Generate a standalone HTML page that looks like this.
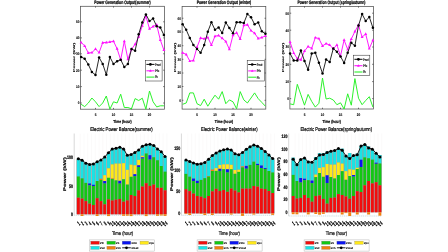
<!DOCTYPE html>
<html lang="en"><head><meta charset="utf-8"><title>Power Generation Output and Electric Power Balance</title>
<style>
html,body{margin:0;padding:0;background:#fff;}
body{width:448px;height:252px;overflow:hidden;}
svg{display:block;font-family:"Liberation Sans", sans-serif;}
text{stroke:#000;stroke-width:.22px;stroke-linejoin:round;text-rendering:geometricPrecision;}
text.yl{stroke-width:.1px;}
text.tk{stroke-width:.1px;}
text.yb{stroke-width:.2px;}
text.lg{stroke-width:.1px;}
</style></head><body>
<svg width="448" height="252" viewBox="0 0 448 252">
<rect width="448" height="252" fill="#fff"/>
<rect x="80.6" y="6.3" width="83.80" height="102.90" fill="none" stroke="#505050" stroke-width="0.75"/>
<path d="M95.50 109.2v-1.3M95.50 6.3v1.3" stroke="#222" stroke-width="0.6"/>
<text x="95.50" y="115.8" font-size="3.8" font-weight="bold" text-anchor="middle" fill="#111" class="tk" textLength="1.75" lengthAdjust="spacingAndGlyphs">5</text>
<path d="M113.50 109.2v-1.3M113.50 6.3v1.3" stroke="#222" stroke-width="0.6"/>
<text x="113.50" y="115.8" font-size="3.8" font-weight="bold" text-anchor="middle" fill="#111" class="tk" textLength="3.50" lengthAdjust="spacingAndGlyphs">10</text>
<path d="M131.50 109.2v-1.3M131.50 6.3v1.3" stroke="#222" stroke-width="0.6"/>
<text x="131.50" y="115.8" font-size="3.8" font-weight="bold" text-anchor="middle" fill="#111" class="tk" textLength="3.50" lengthAdjust="spacingAndGlyphs">15</text>
<path d="M149.50 109.2v-1.3M149.50 6.3v1.3" stroke="#222" stroke-width="0.6"/>
<text x="149.50" y="115.8" font-size="3.8" font-weight="bold" text-anchor="middle" fill="#111" class="tk" textLength="3.50" lengthAdjust="spacingAndGlyphs">20</text>
<path d="M80.6 21.8h1.3M164.4 21.8h-1.3" stroke="#222" stroke-width="0.6"/>
<text x="79.60" y="23.10" font-size="3.8" font-weight="bold" text-anchor="end" fill="#111" class="tk" textLength="3.50" lengthAdjust="spacingAndGlyphs">50</text>
<path d="M80.6 37.9h1.3M164.4 37.9h-1.3" stroke="#222" stroke-width="0.6"/>
<text x="79.60" y="39.20" font-size="3.8" font-weight="bold" text-anchor="end" fill="#111" class="tk" textLength="3.50" lengthAdjust="spacingAndGlyphs">40</text>
<path d="M80.6 53.8h1.3M164.4 53.8h-1.3" stroke="#222" stroke-width="0.6"/>
<text x="79.60" y="55.10" font-size="3.8" font-weight="bold" text-anchor="end" fill="#111" class="tk" textLength="3.50" lengthAdjust="spacingAndGlyphs">30</text>
<path d="M80.6 70.2h1.3M164.4 70.2h-1.3" stroke="#222" stroke-width="0.6"/>
<text x="79.60" y="71.50" font-size="3.8" font-weight="bold" text-anchor="end" fill="#111" class="tk" textLength="3.50" lengthAdjust="spacingAndGlyphs">20</text>
<path d="M80.6 86.6h1.3M164.4 86.6h-1.3" stroke="#222" stroke-width="0.6"/>
<text x="79.60" y="87.90" font-size="3.8" font-weight="bold" text-anchor="end" fill="#111" class="tk" textLength="3.50" lengthAdjust="spacingAndGlyphs">10</text>
<path d="M80.6 103.0h1.3M164.4 103.0h-1.3" stroke="#222" stroke-width="0.6"/>
<text x="79.60" y="104.30" font-size="3.8" font-weight="bold" text-anchor="end" fill="#111" class="tk" textLength="1.75" lengthAdjust="spacingAndGlyphs">0</text>
<text x="122.5" y="4.15" font-size="5.0" font-weight="bold" text-anchor="middle" textLength="56.5" lengthAdjust="spacingAndGlyphs" fill="#000">Power Generation Output(summer)</text>
<text x="122.50" y="123.2" font-size="4.3" font-weight="bold" text-anchor="middle" textLength="18.3" lengthAdjust="spacingAndGlyphs" fill="#111">Time (hour)</text>
<text transform="translate(75.40 57.5) rotate(-90)" font-size="2.7" font-weight="bold" text-anchor="middle" textLength="29.5" lengthAdjust="spacingAndGlyphs" fill="#222" class="yl">Power (kW)</text>
<polyline points="81.10,104.30 84.70,106.60 88.30,103.00 91.90,98.00 95.50,101.80 99.10,106.60 102.70,103.00 106.30,96.00 109.90,109.20 113.50,101.80 117.10,103.00 120.70,94.20 124.30,107.50 127.90,107.50 131.50,108.80 135.10,98.60 138.70,100.50 142.30,98.20 145.90,109.20 149.50,91.00 153.10,101.80 156.70,106.90 160.30,105.80 163.90,105.80" fill="none" stroke="#22f022" stroke-width="0.95" stroke-linejoin="round"/>
<polyline points="81.10,42.40 84.70,45.90 88.30,52.90 91.90,52.60 95.50,49.00 99.10,52.60 102.70,42.70 106.30,42.40 109.90,42.00 113.50,41.20 117.10,48.80 120.70,59.80 124.30,41.20 127.90,59.20 131.50,49.20 135.10,44.30 138.70,36.70 142.30,25.80 145.90,16.00 149.50,28.80 153.10,26.40 156.70,24.80 160.30,39.90 163.90,50.00" fill="none" stroke="#ff10ff" stroke-width="0.95" stroke-linejoin="round"/>
<path d="M79.60 43.40L82.60 43.40L81.10 40.70Z" fill="#ff10ff"/>
<path d="M83.20 46.90L86.20 46.90L84.70 44.20Z" fill="#ff10ff"/>
<path d="M86.80 53.90L89.80 53.90L88.30 51.20Z" fill="#ff10ff"/>
<path d="M90.40 53.60L93.40 53.60L91.90 50.90Z" fill="#ff10ff"/>
<path d="M94.00 50.00L97.00 50.00L95.50 47.30Z" fill="#ff10ff"/>
<path d="M97.60 53.60L100.60 53.60L99.10 50.90Z" fill="#ff10ff"/>
<path d="M101.20 43.70L104.20 43.70L102.70 41.00Z" fill="#ff10ff"/>
<path d="M104.80 43.40L107.80 43.40L106.30 40.70Z" fill="#ff10ff"/>
<path d="M108.40 43.00L111.40 43.00L109.90 40.30Z" fill="#ff10ff"/>
<path d="M112.00 42.20L115.00 42.20L113.50 39.50Z" fill="#ff10ff"/>
<path d="M115.60 49.80L118.60 49.80L117.10 47.10Z" fill="#ff10ff"/>
<path d="M119.20 60.80L122.20 60.80L120.70 58.10Z" fill="#ff10ff"/>
<path d="M122.80 42.20L125.80 42.20L124.30 39.50Z" fill="#ff10ff"/>
<path d="M126.40 60.20L129.40 60.20L127.90 57.50Z" fill="#ff10ff"/>
<path d="M130.00 50.20L133.00 50.20L131.50 47.50Z" fill="#ff10ff"/>
<path d="M133.60 45.30L136.60 45.30L135.10 42.60Z" fill="#ff10ff"/>
<path d="M137.20 37.70L140.20 37.70L138.70 35.00Z" fill="#ff10ff"/>
<path d="M140.80 26.80L143.80 26.80L142.30 24.10Z" fill="#ff10ff"/>
<path d="M144.40 17.00L147.40 17.00L145.90 14.30Z" fill="#ff10ff"/>
<path d="M148.00 29.80L151.00 29.80L149.50 27.10Z" fill="#ff10ff"/>
<path d="M151.60 27.40L154.60 27.40L153.10 24.70Z" fill="#ff10ff"/>
<path d="M155.20 25.80L158.20 25.80L156.70 23.10Z" fill="#ff10ff"/>
<path d="M158.80 40.90L161.80 40.90L160.30 38.20Z" fill="#ff10ff"/>
<path d="M162.40 51.00L165.40 51.00L163.90 48.30Z" fill="#ff10ff"/>
<polyline points="81.10,56.90 84.70,58.80 88.30,64.50 91.90,72.10 95.50,74.90 99.10,57.50 102.70,63.90 106.30,74.70 109.90,57.10 113.50,63.90 117.10,61.30 120.70,59.70 124.30,67.00 127.90,63.90 131.50,49.00 135.10,50.70 138.70,34.20 142.30,22.40 145.90,14.40 149.50,21.10 153.10,18.60 156.70,26.30 160.30,27.50 163.90,35.00" fill="none" stroke="#111" stroke-width="0.9" stroke-linejoin="round"/>
<circle cx="81.10" cy="56.90" r="1.25" fill="#000"/>
<circle cx="84.70" cy="58.80" r="1.25" fill="#000"/>
<circle cx="88.30" cy="64.50" r="1.25" fill="#000"/>
<circle cx="91.90" cy="72.10" r="1.25" fill="#000"/>
<circle cx="95.50" cy="74.90" r="1.25" fill="#000"/>
<circle cx="99.10" cy="57.50" r="1.25" fill="#000"/>
<circle cx="102.70" cy="63.90" r="1.25" fill="#000"/>
<circle cx="106.30" cy="74.70" r="1.25" fill="#000"/>
<circle cx="109.90" cy="57.10" r="1.25" fill="#000"/>
<circle cx="113.50" cy="63.90" r="1.25" fill="#000"/>
<circle cx="117.10" cy="61.30" r="1.25" fill="#000"/>
<circle cx="120.70" cy="59.70" r="1.25" fill="#000"/>
<circle cx="124.30" cy="67.00" r="1.25" fill="#000"/>
<circle cx="127.90" cy="63.90" r="1.25" fill="#000"/>
<circle cx="131.50" cy="49.00" r="1.25" fill="#000"/>
<circle cx="135.10" cy="50.70" r="1.25" fill="#000"/>
<circle cx="138.70" cy="34.20" r="1.25" fill="#000"/>
<circle cx="142.30" cy="22.40" r="1.25" fill="#000"/>
<circle cx="145.90" cy="14.40" r="1.25" fill="#000"/>
<circle cx="149.50" cy="21.10" r="1.25" fill="#000"/>
<circle cx="153.10" cy="18.60" r="1.25" fill="#000"/>
<circle cx="156.70" cy="26.30" r="1.25" fill="#000"/>
<circle cx="160.30" cy="27.50" r="1.25" fill="#000"/>
<circle cx="163.90" cy="35.00" r="1.25" fill="#000"/>
<rect x="145.4" y="60.3" width="16.70" height="20.70" fill="#fff" stroke="#222" stroke-width="0.5"/>
<path d="M146.40 64.40h8.1" stroke="#111" stroke-width="1.05"/>
<circle cx="150.40" cy="64.40" r="1.35" fill="#000"/>
<text x="155.00" y="65.70" font-size="3.7" font-weight="bold" fill="#111" class="lg" textLength="5.7" lengthAdjust="spacingAndGlyphs">Pnet</text>
<path d="M146.40 70.80h8.1" stroke="#ff10ff" stroke-width="1.05"/>
<path d="M149.05 71.75L151.75 71.75L150.40 69.30Z" fill="#ff10ff"/>
<text x="155.00" y="72.10" font-size="3.7" font-weight="bold" fill="#111" class="lg" textLength="4.2" lengthAdjust="spacingAndGlyphs">Pfc</text>
<path d="M146.40 77.10h8.1" stroke="#22f022" stroke-width="1.05"/>
<text x="155.00" y="78.40" font-size="3.7" font-weight="bold" fill="#111" class="lg" textLength="2.9" lengthAdjust="spacingAndGlyphs">Pb</text>
<rect x="182.1" y="6.4" width="83.70" height="102.70" fill="none" stroke="#505050" stroke-width="0.75"/>
<path d="M197.00 109.1v-1.3M197.00 6.4v1.3" stroke="#222" stroke-width="0.6"/>
<text x="197.00" y="115.8" font-size="3.8" font-weight="bold" text-anchor="middle" fill="#111" class="tk" textLength="1.75" lengthAdjust="spacingAndGlyphs">5</text>
<path d="M215.00 109.1v-1.3M215.00 6.4v1.3" stroke="#222" stroke-width="0.6"/>
<text x="215.00" y="115.8" font-size="3.8" font-weight="bold" text-anchor="middle" fill="#111" class="tk" textLength="3.50" lengthAdjust="spacingAndGlyphs">10</text>
<path d="M233.00 109.1v-1.3M233.00 6.4v1.3" stroke="#222" stroke-width="0.6"/>
<text x="233.00" y="115.8" font-size="3.8" font-weight="bold" text-anchor="middle" fill="#111" class="tk" textLength="3.50" lengthAdjust="spacingAndGlyphs">15</text>
<path d="M251.00 109.1v-1.3M251.00 6.4v1.3" stroke="#222" stroke-width="0.6"/>
<text x="251.00" y="115.8" font-size="3.8" font-weight="bold" text-anchor="middle" fill="#111" class="tk" textLength="3.50" lengthAdjust="spacingAndGlyphs">20</text>
<path d="M182.1 18.25h1.3M265.8 18.25h-1.3" stroke="#222" stroke-width="0.6"/>
<text x="181.10" y="19.55" font-size="3.8" font-weight="bold" text-anchor="end" fill="#111" class="tk" textLength="3.50" lengthAdjust="spacingAndGlyphs">60</text>
<path d="M182.1 32.0h1.3M265.8 32.0h-1.3" stroke="#222" stroke-width="0.6"/>
<text x="181.10" y="33.30" font-size="3.8" font-weight="bold" text-anchor="end" fill="#111" class="tk" textLength="3.50" lengthAdjust="spacingAndGlyphs">50</text>
<path d="M182.1 45.7h1.3M265.8 45.7h-1.3" stroke="#222" stroke-width="0.6"/>
<text x="181.10" y="47.00" font-size="3.8" font-weight="bold" text-anchor="end" fill="#111" class="tk" textLength="3.50" lengthAdjust="spacingAndGlyphs">40</text>
<path d="M182.1 59.3h1.3M265.8 59.3h-1.3" stroke="#222" stroke-width="0.6"/>
<text x="181.10" y="60.60" font-size="3.8" font-weight="bold" text-anchor="end" fill="#111" class="tk" textLength="3.50" lengthAdjust="spacingAndGlyphs">30</text>
<path d="M182.1 73.0h1.3M265.8 73.0h-1.3" stroke="#222" stroke-width="0.6"/>
<text x="181.10" y="74.30" font-size="3.8" font-weight="bold" text-anchor="end" fill="#111" class="tk" textLength="3.50" lengthAdjust="spacingAndGlyphs">20</text>
<path d="M182.1 86.5h1.3M265.8 86.5h-1.3" stroke="#222" stroke-width="0.6"/>
<text x="181.10" y="87.80" font-size="3.8" font-weight="bold" text-anchor="end" fill="#111" class="tk" textLength="3.50" lengthAdjust="spacingAndGlyphs">10</text>
<path d="M182.1 100.3h1.3M265.8 100.3h-1.3" stroke="#222" stroke-width="0.6"/>
<text x="181.10" y="101.60" font-size="3.8" font-weight="bold" text-anchor="end" fill="#111" class="tk" textLength="1.75" lengthAdjust="spacingAndGlyphs">0</text>
<text x="224" y="4.15" font-size="5.0" font-weight="bold" text-anchor="middle" textLength="54.5" lengthAdjust="spacingAndGlyphs" fill="#000">Power Generation Output (winter)</text>
<text x="223.95" y="123.2" font-size="4.3" font-weight="bold" text-anchor="middle" textLength="18.3" lengthAdjust="spacingAndGlyphs" fill="#111">Time (hour)</text>
<text transform="translate(175.70 57.5) rotate(-90)" font-size="2.7" font-weight="bold" text-anchor="middle" textLength="29.5" lengthAdjust="spacingAndGlyphs" fill="#222" class="yl">Power (kW)</text>
<polyline points="182.60,104.30 186.20,103.00 189.80,92.90 193.40,92.90 197.00,103.70 200.60,105.60 204.20,99.20 207.80,106.20 211.40,100.50 215.00,95.20 218.60,99.20 222.20,91.60 225.80,103.70 229.40,99.90 233.00,101.80 236.60,108.80 240.20,91.60 243.80,99.90 247.40,103.00 251.00,98.00 254.60,92.90 258.20,98.60 261.80,102.40 265.40,106.20" fill="none" stroke="#22f022" stroke-width="0.95" stroke-linejoin="round"/>
<polyline points="182.60,52.80 186.20,54.40 189.80,61.10 193.40,60.50 197.00,47.10 200.60,38.00 204.20,38.70 207.80,37.40 211.40,45.00 215.00,36.20 218.60,35.50 222.20,38.20 225.80,41.50 229.40,49.30 233.00,35.20 236.60,32.70 240.20,39.00 243.80,25.30 247.40,24.80 251.00,30.60 254.60,33.20 258.20,38.40 261.80,37.50 265.40,35.90" fill="none" stroke="#ff10ff" stroke-width="0.95" stroke-linejoin="round"/>
<path d="M181.10 53.80L184.10 53.80L182.60 51.10Z" fill="#ff10ff"/>
<path d="M184.70 55.40L187.70 55.40L186.20 52.70Z" fill="#ff10ff"/>
<path d="M188.30 62.10L191.30 62.10L189.80 59.40Z" fill="#ff10ff"/>
<path d="M191.90 61.50L194.90 61.50L193.40 58.80Z" fill="#ff10ff"/>
<path d="M195.50 48.10L198.50 48.10L197.00 45.40Z" fill="#ff10ff"/>
<path d="M199.10 39.00L202.10 39.00L200.60 36.30Z" fill="#ff10ff"/>
<path d="M202.70 39.70L205.70 39.70L204.20 37.00Z" fill="#ff10ff"/>
<path d="M206.30 38.40L209.30 38.40L207.80 35.70Z" fill="#ff10ff"/>
<path d="M209.90 46.00L212.90 46.00L211.40 43.30Z" fill="#ff10ff"/>
<path d="M213.50 37.20L216.50 37.20L215.00 34.50Z" fill="#ff10ff"/>
<path d="M217.10 36.50L220.10 36.50L218.60 33.80Z" fill="#ff10ff"/>
<path d="M220.70 39.20L223.70 39.20L222.20 36.50Z" fill="#ff10ff"/>
<path d="M224.30 42.50L227.30 42.50L225.80 39.80Z" fill="#ff10ff"/>
<path d="M227.90 50.30L230.90 50.30L229.40 47.60Z" fill="#ff10ff"/>
<path d="M231.50 36.20L234.50 36.20L233.00 33.50Z" fill="#ff10ff"/>
<path d="M235.10 33.70L238.10 33.70L236.60 31.00Z" fill="#ff10ff"/>
<path d="M238.70 40.00L241.70 40.00L240.20 37.30Z" fill="#ff10ff"/>
<path d="M242.30 26.30L245.30 26.30L243.80 23.60Z" fill="#ff10ff"/>
<path d="M245.90 25.80L248.90 25.80L247.40 23.10Z" fill="#ff10ff"/>
<path d="M249.50 31.60L252.50 31.60L251.00 28.90Z" fill="#ff10ff"/>
<path d="M253.10 34.20L256.10 34.20L254.60 31.50Z" fill="#ff10ff"/>
<path d="M256.70 39.40L259.70 39.40L258.20 36.70Z" fill="#ff10ff"/>
<path d="M260.30 38.50L263.30 38.50L261.80 35.80Z" fill="#ff10ff"/>
<path d="M263.90 36.90L266.90 36.90L265.40 34.20Z" fill="#ff10ff"/>
<polyline points="182.60,24.20 186.20,29.80 189.80,38.00 193.40,45.00 197.00,48.90 200.60,52.70 204.20,45.00 207.80,31.70 211.40,22.30 215.00,29.80 218.60,27.40 222.20,33.00 225.80,22.40 229.40,28.10 233.00,33.20 236.60,22.30 240.20,22.30 243.80,23.10 247.40,14.10 251.00,17.20 254.60,24.30 258.20,22.40 261.80,31.30 265.40,33.80" fill="none" stroke="#111" stroke-width="0.9" stroke-linejoin="round"/>
<circle cx="182.60" cy="24.20" r="1.25" fill="#000"/>
<circle cx="186.20" cy="29.80" r="1.25" fill="#000"/>
<circle cx="189.80" cy="38.00" r="1.25" fill="#000"/>
<circle cx="193.40" cy="45.00" r="1.25" fill="#000"/>
<circle cx="197.00" cy="48.90" r="1.25" fill="#000"/>
<circle cx="200.60" cy="52.70" r="1.25" fill="#000"/>
<circle cx="204.20" cy="45.00" r="1.25" fill="#000"/>
<circle cx="207.80" cy="31.70" r="1.25" fill="#000"/>
<circle cx="211.40" cy="22.30" r="1.25" fill="#000"/>
<circle cx="215.00" cy="29.80" r="1.25" fill="#000"/>
<circle cx="218.60" cy="27.40" r="1.25" fill="#000"/>
<circle cx="222.20" cy="33.00" r="1.25" fill="#000"/>
<circle cx="225.80" cy="22.40" r="1.25" fill="#000"/>
<circle cx="229.40" cy="28.10" r="1.25" fill="#000"/>
<circle cx="233.00" cy="33.20" r="1.25" fill="#000"/>
<circle cx="236.60" cy="22.30" r="1.25" fill="#000"/>
<circle cx="240.20" cy="22.30" r="1.25" fill="#000"/>
<circle cx="243.80" cy="23.10" r="1.25" fill="#000"/>
<circle cx="247.40" cy="14.10" r="1.25" fill="#000"/>
<circle cx="251.00" cy="17.20" r="1.25" fill="#000"/>
<circle cx="254.60" cy="24.30" r="1.25" fill="#000"/>
<circle cx="258.20" cy="22.40" r="1.25" fill="#000"/>
<circle cx="261.80" cy="31.30" r="1.25" fill="#000"/>
<circle cx="265.40" cy="33.80" r="1.25" fill="#000"/>
<rect x="247.2" y="60.4" width="17.20" height="20.60" fill="#fff" stroke="#222" stroke-width="0.5"/>
<path d="M248.20 64.50h8.1" stroke="#111" stroke-width="1.05"/>
<circle cx="252.20" cy="64.50" r="1.35" fill="#000"/>
<text x="256.80" y="65.80" font-size="3.7" font-weight="bold" fill="#111" class="lg" textLength="5.7" lengthAdjust="spacingAndGlyphs">Pnet</text>
<path d="M248.20 70.90h8.1" stroke="#ff10ff" stroke-width="1.05"/>
<path d="M250.85 71.85L253.55 71.85L252.20 69.40Z" fill="#ff10ff"/>
<text x="256.80" y="72.20" font-size="3.7" font-weight="bold" fill="#111" class="lg" textLength="4.2" lengthAdjust="spacingAndGlyphs">Pfc</text>
<path d="M248.20 77.20h8.1" stroke="#22f022" stroke-width="1.05"/>
<text x="256.80" y="78.50" font-size="3.7" font-weight="bold" fill="#111" class="lg" textLength="2.9" lengthAdjust="spacingAndGlyphs">Pb</text>
<rect x="289.9" y="6.4" width="83.50" height="102.60" fill="none" stroke="#505050" stroke-width="0.75"/>
<path d="M304.50 109.0v-1.3M304.50 6.4v1.3" stroke="#222" stroke-width="0.6"/>
<text x="304.50" y="115.8" font-size="3.8" font-weight="bold" text-anchor="middle" fill="#111" class="tk" textLength="1.75" lengthAdjust="spacingAndGlyphs">5</text>
<path d="M322.50 109.0v-1.3M322.50 6.4v1.3" stroke="#222" stroke-width="0.6"/>
<text x="322.50" y="115.8" font-size="3.8" font-weight="bold" text-anchor="middle" fill="#111" class="tk" textLength="3.50" lengthAdjust="spacingAndGlyphs">10</text>
<path d="M340.50 109.0v-1.3M340.50 6.4v1.3" stroke="#222" stroke-width="0.6"/>
<text x="340.50" y="115.8" font-size="3.8" font-weight="bold" text-anchor="middle" fill="#111" class="tk" textLength="3.50" lengthAdjust="spacingAndGlyphs">15</text>
<path d="M358.50 109.0v-1.3M358.50 6.4v1.3" stroke="#222" stroke-width="0.6"/>
<text x="358.50" y="115.8" font-size="3.8" font-weight="bold" text-anchor="middle" fill="#111" class="tk" textLength="3.50" lengthAdjust="spacingAndGlyphs">20</text>
<path d="M289.9 13.2h1.3M373.4 13.2h-1.3" stroke="#222" stroke-width="0.6"/>
<text x="288.90" y="14.50" font-size="3.8" font-weight="bold" text-anchor="end" fill="#111" class="tk" textLength="3.50" lengthAdjust="spacingAndGlyphs">50</text>
<path d="M289.9 30.2h1.3M373.4 30.2h-1.3" stroke="#222" stroke-width="0.6"/>
<text x="288.90" y="31.50" font-size="3.8" font-weight="bold" text-anchor="end" fill="#111" class="tk" textLength="3.50" lengthAdjust="spacingAndGlyphs">40</text>
<path d="M289.9 47.0h1.3M373.4 47.0h-1.3" stroke="#222" stroke-width="0.6"/>
<text x="288.90" y="48.30" font-size="3.8" font-weight="bold" text-anchor="end" fill="#111" class="tk" textLength="3.50" lengthAdjust="spacingAndGlyphs">30</text>
<path d="M289.9 64.3h1.3M373.4 64.3h-1.3" stroke="#222" stroke-width="0.6"/>
<text x="288.90" y="65.60" font-size="3.8" font-weight="bold" text-anchor="end" fill="#111" class="tk" textLength="3.50" lengthAdjust="spacingAndGlyphs">20</text>
<path d="M289.9 81.6h1.3M373.4 81.6h-1.3" stroke="#222" stroke-width="0.6"/>
<text x="288.90" y="82.90" font-size="3.8" font-weight="bold" text-anchor="end" fill="#111" class="tk" textLength="3.50" lengthAdjust="spacingAndGlyphs">10</text>
<path d="M289.9 98.6h1.3M373.4 98.6h-1.3" stroke="#222" stroke-width="0.6"/>
<text x="288.90" y="99.90" font-size="3.8" font-weight="bold" text-anchor="end" fill="#111" class="tk" textLength="1.75" lengthAdjust="spacingAndGlyphs">0</text>
<text x="331.5" y="4.15" font-size="5.0" font-weight="bold" text-anchor="middle" textLength="68" lengthAdjust="spacingAndGlyphs" fill="#000">Power Generation Output (spring/autumn)</text>
<text x="331.65" y="123.2" font-size="4.3" font-weight="bold" text-anchor="middle" textLength="18.3" lengthAdjust="spacingAndGlyphs" fill="#111">Time (hour)</text>
<text transform="translate(283.90 57.5) rotate(-90)" font-size="2.7" font-weight="bold" text-anchor="middle" textLength="29.5" lengthAdjust="spacingAndGlyphs" fill="#222" class="yl">Power (kW)</text>
<polyline points="290.10,103.90 293.70,104.70 297.30,84.30 300.90,94.80 304.50,105.20 308.10,94.40 311.70,101.40 315.30,107.10 318.90,103.30 322.50,78.00 326.10,99.00 329.70,98.20 333.30,100.00 336.90,104.70 340.50,102.80 344.10,109.00 347.70,93.80 351.30,105.20 354.90,78.60 358.50,98.20 362.10,104.70 365.70,100.50 369.30,96.70 372.90,107.10" fill="none" stroke="#22f022" stroke-width="0.95" stroke-linejoin="round"/>
<polyline points="290.10,42.10 293.70,52.90 297.30,58.60 300.90,59.80 304.50,51.00 308.10,46.50 311.70,48.40 315.30,37.60 318.90,38.60 322.50,45.90 326.10,43.60 329.70,45.00 333.30,48.80 336.90,44.90 340.50,55.90 344.10,40.00 347.70,49.40 351.30,39.00 354.90,31.50 358.50,25.00 362.10,37.10 365.70,34.00 369.30,48.60 372.90,40.30" fill="none" stroke="#ff10ff" stroke-width="0.95" stroke-linejoin="round"/>
<path d="M288.60 43.10L291.60 43.10L290.10 40.40Z" fill="#ff10ff"/>
<path d="M292.20 53.90L295.20 53.90L293.70 51.20Z" fill="#ff10ff"/>
<path d="M295.80 59.60L298.80 59.60L297.30 56.90Z" fill="#ff10ff"/>
<path d="M299.40 60.80L302.40 60.80L300.90 58.10Z" fill="#ff10ff"/>
<path d="M303.00 52.00L306.00 52.00L304.50 49.30Z" fill="#ff10ff"/>
<path d="M306.60 47.50L309.60 47.50L308.10 44.80Z" fill="#ff10ff"/>
<path d="M310.20 49.40L313.20 49.40L311.70 46.70Z" fill="#ff10ff"/>
<path d="M313.80 38.60L316.80 38.60L315.30 35.90Z" fill="#ff10ff"/>
<path d="M317.40 39.60L320.40 39.60L318.90 36.90Z" fill="#ff10ff"/>
<path d="M321.00 46.90L324.00 46.90L322.50 44.20Z" fill="#ff10ff"/>
<path d="M324.60 44.60L327.60 44.60L326.10 41.90Z" fill="#ff10ff"/>
<path d="M328.20 46.00L331.20 46.00L329.70 43.30Z" fill="#ff10ff"/>
<path d="M331.80 49.80L334.80 49.80L333.30 47.10Z" fill="#ff10ff"/>
<path d="M335.40 45.90L338.40 45.90L336.90 43.20Z" fill="#ff10ff"/>
<path d="M339.00 56.90L342.00 56.90L340.50 54.20Z" fill="#ff10ff"/>
<path d="M342.60 41.00L345.60 41.00L344.10 38.30Z" fill="#ff10ff"/>
<path d="M346.20 50.40L349.20 50.40L347.70 47.70Z" fill="#ff10ff"/>
<path d="M349.80 40.00L352.80 40.00L351.30 37.30Z" fill="#ff10ff"/>
<path d="M353.40 32.50L356.40 32.50L354.90 29.80Z" fill="#ff10ff"/>
<path d="M357.00 26.00L360.00 26.00L358.50 23.30Z" fill="#ff10ff"/>
<path d="M360.60 38.10L363.60 38.10L362.10 35.40Z" fill="#ff10ff"/>
<path d="M364.20 35.00L367.20 35.00L365.70 32.30Z" fill="#ff10ff"/>
<path d="M367.80 49.60L370.80 49.60L369.30 46.90Z" fill="#ff10ff"/>
<path d="M371.40 41.30L374.40 41.30L372.90 38.60Z" fill="#ff10ff"/>
<polyline points="290.10,53.60 293.70,60.40 297.30,60.60 300.90,50.40 304.50,61.00 308.10,69.70 311.70,53.50 315.30,52.80 318.90,62.70 322.50,73.50 326.10,59.50 329.70,62.00 333.30,48.50 336.90,51.80 340.50,56.50 344.10,62.90 347.70,52.70 351.30,42.80 354.90,45.80 358.50,25.60 362.10,14.10 365.70,21.00 369.30,17.00 372.90,27.80" fill="none" stroke="#111" stroke-width="0.9" stroke-linejoin="round"/>
<circle cx="290.10" cy="53.60" r="1.25" fill="#000"/>
<circle cx="293.70" cy="60.40" r="1.25" fill="#000"/>
<circle cx="297.30" cy="60.60" r="1.25" fill="#000"/>
<circle cx="300.90" cy="50.40" r="1.25" fill="#000"/>
<circle cx="304.50" cy="61.00" r="1.25" fill="#000"/>
<circle cx="308.10" cy="69.70" r="1.25" fill="#000"/>
<circle cx="311.70" cy="53.50" r="1.25" fill="#000"/>
<circle cx="315.30" cy="52.80" r="1.25" fill="#000"/>
<circle cx="318.90" cy="62.70" r="1.25" fill="#000"/>
<circle cx="322.50" cy="73.50" r="1.25" fill="#000"/>
<circle cx="326.10" cy="59.50" r="1.25" fill="#000"/>
<circle cx="329.70" cy="62.00" r="1.25" fill="#000"/>
<circle cx="333.30" cy="48.50" r="1.25" fill="#000"/>
<circle cx="336.90" cy="51.80" r="1.25" fill="#000"/>
<circle cx="340.50" cy="56.50" r="1.25" fill="#000"/>
<circle cx="344.10" cy="62.90" r="1.25" fill="#000"/>
<circle cx="347.70" cy="52.70" r="1.25" fill="#000"/>
<circle cx="351.30" cy="42.80" r="1.25" fill="#000"/>
<circle cx="354.90" cy="45.80" r="1.25" fill="#000"/>
<circle cx="358.50" cy="25.60" r="1.25" fill="#000"/>
<circle cx="362.10" cy="14.10" r="1.25" fill="#000"/>
<circle cx="365.70" cy="21.00" r="1.25" fill="#000"/>
<circle cx="369.30" cy="17.00" r="1.25" fill="#000"/>
<circle cx="372.90" cy="27.80" r="1.25" fill="#000"/>
<rect x="353.4" y="55.2" width="16.40" height="20.50" fill="#fff" stroke="#222" stroke-width="0.5"/>
<path d="M354.40 59.30h8.1" stroke="#111" stroke-width="1.05"/>
<circle cx="358.40" cy="59.30" r="1.35" fill="#000"/>
<text x="363.00" y="60.60" font-size="3.7" font-weight="bold" fill="#111" class="lg" textLength="5.7" lengthAdjust="spacingAndGlyphs">Pnet</text>
<path d="M354.40 65.70h8.1" stroke="#ff10ff" stroke-width="1.05"/>
<path d="M357.05 66.65L359.75 66.65L358.40 64.20Z" fill="#ff10ff"/>
<text x="363.00" y="67.00" font-size="3.7" font-weight="bold" fill="#111" class="lg" textLength="4.2" lengthAdjust="spacingAndGlyphs">Pfc</text>
<path d="M354.40 72.00h8.1" stroke="#22f022" stroke-width="1.05"/>
<text x="363.00" y="73.30" font-size="3.7" font-weight="bold" fill="#111" class="lg" textLength="2.9" lengthAdjust="spacingAndGlyphs">Pb</text>
<path d="M80.20 133.5V215.3" stroke="#f8f6f6" stroke-width="0.6"/>
<path d="M83.98 133.5V215.3" stroke="#f8f6f6" stroke-width="0.6"/>
<path d="M87.75 133.5V215.3" stroke="#f8f6f6" stroke-width="0.6"/>
<path d="M91.52 133.5V215.3" stroke="#f8f6f6" stroke-width="0.6"/>
<path d="M95.29 133.5V215.3" stroke="#f8f6f6" stroke-width="0.6"/>
<path d="M99.06 133.5V215.3" stroke="#f8f6f6" stroke-width="0.6"/>
<path d="M102.83 133.5V215.3" stroke="#f8f6f6" stroke-width="0.6"/>
<path d="M106.59 133.5V215.3" stroke="#f8f6f6" stroke-width="0.6"/>
<path d="M110.36 133.5V215.3" stroke="#f8f6f6" stroke-width="0.6"/>
<path d="M114.14 133.5V215.3" stroke="#f8f6f6" stroke-width="0.6"/>
<path d="M117.91 133.5V215.3" stroke="#f8f6f6" stroke-width="0.6"/>
<path d="M121.67 133.5V215.3" stroke="#f8f6f6" stroke-width="0.6"/>
<path d="M125.45 133.5V215.3" stroke="#f8f6f6" stroke-width="0.6"/>
<path d="M129.22 133.5V215.3" stroke="#f8f6f6" stroke-width="0.6"/>
<path d="M132.98 133.5V215.3" stroke="#f8f6f6" stroke-width="0.6"/>
<path d="M136.75 133.5V215.3" stroke="#f8f6f6" stroke-width="0.6"/>
<path d="M140.52 133.5V215.3" stroke="#f8f6f6" stroke-width="0.6"/>
<path d="M144.29 133.5V215.3" stroke="#f8f6f6" stroke-width="0.6"/>
<path d="M148.06 133.5V215.3" stroke="#f8f6f6" stroke-width="0.6"/>
<path d="M151.83 133.5V215.3" stroke="#f8f6f6" stroke-width="0.6"/>
<path d="M155.60 133.5V215.3" stroke="#f8f6f6" stroke-width="0.6"/>
<path d="M159.38 133.5V215.3" stroke="#f8f6f6" stroke-width="0.6"/>
<path d="M163.14 133.5V215.3" stroke="#f8f6f6" stroke-width="0.6"/>
<path d="M166.91 133.5V215.3" stroke="#f8f6f6" stroke-width="0.6"/>
<path d="M74.2 133.5V215.3" stroke="#c9c9c9" stroke-width="0.7"/>
<path d="M74.2 215.3H166.93" stroke="#bcd0d6" stroke-width="0.7" stroke-dasharray="1.2 0.7"/>
<rect x="76.43" y="158.70" width="3.77" height="55.60" fill="#8f9a9a"/>
<rect x="76.87" y="158.70" width="2.9" height="17.80" fill="#19e3e6"/>
<rect x="76.87" y="176.50" width="2.9" height="21.20" fill="#12c812"/>
<rect x="76.87" y="197.70" width="2.9" height="16.60" fill="#f20d0d"/>
<rect x="80.20" y="160.30" width="3.77" height="54.00" fill="#8f9a9a"/>
<rect x="80.64" y="160.30" width="2.9" height="18.10" fill="#19e3e6"/>
<rect x="80.64" y="178.40" width="2.9" height="20.20" fill="#12c812"/>
<rect x="80.64" y="198.60" width="2.9" height="15.70" fill="#f20d0d"/>
<rect x="80.64" y="214.30" width="2.9" height="1.70" fill="#f08010"/>
<rect x="83.97" y="163.20" width="3.77" height="51.10" fill="#8f9a9a"/>
<rect x="84.41" y="163.20" width="2.9" height="19.70" fill="#19e3e6"/>
<rect x="84.41" y="182.90" width="2.9" height="18.20" fill="#12c812"/>
<rect x="84.41" y="201.10" width="2.9" height="13.20" fill="#f20d0d"/>
<rect x="87.74" y="164.40" width="3.77" height="49.90" fill="#8f9a9a"/>
<rect x="88.18" y="164.40" width="2.9" height="19.10" fill="#19e3e6"/>
<rect x="88.18" y="183.50" width="2.9" height="1.90" fill="#0a14f0"/>
<rect x="88.18" y="185.40" width="2.9" height="18.30" fill="#12c812"/>
<rect x="88.18" y="203.70" width="2.9" height="10.60" fill="#f20d0d"/>
<rect x="91.52" y="163.90" width="3.77" height="50.40" fill="#8f9a9a"/>
<rect x="91.95" y="163.90" width="2.9" height="20.90" fill="#19e3e6"/>
<rect x="91.95" y="184.80" width="2.9" height="1.20" fill="#0a14f0"/>
<rect x="91.95" y="186.00" width="2.9" height="19.00" fill="#12c812"/>
<rect x="91.95" y="205.00" width="2.9" height="9.30" fill="#f20d0d"/>
<rect x="95.28" y="161.80" width="3.77" height="52.50" fill="#8f9a9a"/>
<rect x="95.72" y="161.80" width="2.9" height="19.20" fill="#19e3e6"/>
<rect x="95.72" y="181.00" width="2.9" height="17.20" fill="#12c812"/>
<rect x="95.72" y="198.20" width="2.9" height="16.10" fill="#f20d0d"/>
<rect x="95.72" y="214.30" width="2.9" height="1.70" fill="#f08010"/>
<rect x="99.05" y="160.00" width="3.77" height="54.30" fill="#8f9a9a"/>
<rect x="99.49" y="160.00" width="2.9" height="18.80" fill="#19e3e6"/>
<rect x="99.49" y="178.80" width="2.9" height="1.20" fill="#f08010"/>
<rect x="99.49" y="180.00" width="2.9" height="21.10" fill="#12c812"/>
<rect x="99.49" y="201.10" width="2.9" height="13.20" fill="#f20d0d"/>
<rect x="102.82" y="157.10" width="3.77" height="57.20" fill="#8f9a9a"/>
<rect x="103.26" y="157.10" width="2.9" height="18.10" fill="#19e3e6"/>
<rect x="103.26" y="175.20" width="2.9" height="5.80" fill="#ffe81a"/>
<rect x="103.26" y="181.00" width="2.9" height="2.50" fill="#0a14f0"/>
<rect x="103.26" y="183.50" width="2.9" height="20.80" fill="#12c812"/>
<rect x="103.26" y="204.30" width="2.9" height="10.00" fill="#f20d0d"/>
<rect x="106.59" y="152.70" width="3.77" height="61.60" fill="#8f9a9a"/>
<rect x="107.03" y="152.70" width="2.9" height="15.60" fill="#19e3e6"/>
<rect x="107.03" y="168.30" width="2.9" height="9.50" fill="#ffe81a"/>
<rect x="107.03" y="177.80" width="2.9" height="21.60" fill="#12c812"/>
<rect x="107.03" y="199.40" width="2.9" height="14.90" fill="#f20d0d"/>
<rect x="107.03" y="214.30" width="2.9" height="1.80" fill="#f08010"/>
<rect x="110.36" y="149.10" width="3.77" height="65.20" fill="#8f9a9a"/>
<rect x="110.80" y="149.10" width="2.9" height="15.30" fill="#19e3e6"/>
<rect x="110.80" y="164.40" width="2.9" height="14.00" fill="#ffe81a"/>
<rect x="110.80" y="178.40" width="2.9" height="0.60" fill="#f08010"/>
<rect x="110.80" y="179.00" width="2.9" height="21.50" fill="#12c812"/>
<rect x="110.80" y="200.50" width="2.9" height="13.80" fill="#f20d0d"/>
<rect x="114.13" y="148.20" width="3.77" height="66.10" fill="#8f9a9a"/>
<rect x="114.57" y="148.20" width="2.9" height="15.40" fill="#19e3e6"/>
<rect x="114.57" y="163.60" width="2.9" height="16.80" fill="#ffe81a"/>
<rect x="114.57" y="180.40" width="2.9" height="19.20" fill="#12c812"/>
<rect x="114.57" y="199.60" width="2.9" height="14.70" fill="#f20d0d"/>
<rect x="117.90" y="147.20" width="3.77" height="67.10" fill="#8f9a9a"/>
<rect x="118.34" y="147.20" width="2.9" height="16.40" fill="#19e3e6"/>
<rect x="118.34" y="163.60" width="2.9" height="17.20" fill="#ffe81a"/>
<rect x="118.34" y="180.80" width="2.9" height="2.80" fill="#0a14f0"/>
<rect x="118.34" y="183.60" width="2.9" height="15.40" fill="#12c812"/>
<rect x="118.34" y="199.00" width="2.9" height="15.30" fill="#f20d0d"/>
<rect x="121.67" y="149.00" width="3.77" height="65.30" fill="#8f9a9a"/>
<rect x="122.11" y="149.00" width="2.9" height="14.20" fill="#19e3e6"/>
<rect x="122.11" y="163.20" width="2.9" height="16.10" fill="#ffe81a"/>
<rect x="122.11" y="179.30" width="2.9" height="22.40" fill="#12c812"/>
<rect x="122.11" y="201.70" width="2.9" height="12.60" fill="#f20d0d"/>
<rect x="122.11" y="214.30" width="2.9" height="1.50" fill="#f08010"/>
<rect x="125.44" y="155.30" width="3.77" height="59.00" fill="#8f9a9a"/>
<rect x="125.88" y="155.30" width="2.9" height="14.50" fill="#19e3e6"/>
<rect x="125.88" y="169.80" width="2.9" height="14.80" fill="#ffe81a"/>
<rect x="125.88" y="184.60" width="2.9" height="15.80" fill="#12c812"/>
<rect x="125.88" y="200.40" width="2.9" height="13.90" fill="#f20d0d"/>
<rect x="125.88" y="214.30" width="2.9" height="1.40" fill="#f08010"/>
<rect x="129.22" y="154.60" width="3.77" height="59.70" fill="#8f9a9a"/>
<rect x="129.65" y="154.60" width="2.9" height="10.10" fill="#19e3e6"/>
<rect x="129.65" y="164.70" width="2.9" height="12.10" fill="#ffe81a"/>
<rect x="129.65" y="176.80" width="2.9" height="18.20" fill="#12c812"/>
<rect x="129.65" y="195.00" width="2.9" height="19.30" fill="#f20d0d"/>
<rect x="129.65" y="214.30" width="2.9" height="1.80" fill="#f08010"/>
<rect x="132.99" y="152.50" width="3.77" height="61.80" fill="#8f9a9a"/>
<rect x="133.42" y="152.50" width="2.9" height="12.80" fill="#19e3e6"/>
<rect x="133.42" y="165.30" width="2.9" height="8.90" fill="#ffe81a"/>
<rect x="133.42" y="174.20" width="2.9" height="1.90" fill="#0a14f0"/>
<rect x="133.42" y="176.10" width="2.9" height="19.90" fill="#12c812"/>
<rect x="133.42" y="196.00" width="2.9" height="18.30" fill="#f20d0d"/>
<rect x="136.75" y="150.00" width="3.77" height="64.30" fill="#8f9a9a"/>
<rect x="137.19" y="150.00" width="2.9" height="9.90" fill="#19e3e6"/>
<rect x="137.19" y="159.90" width="2.9" height="5.40" fill="#ffe81a"/>
<rect x="137.19" y="165.30" width="2.9" height="1.70" fill="#0a14f0"/>
<rect x="137.19" y="167.00" width="2.9" height="23.30" fill="#12c812"/>
<rect x="137.19" y="190.30" width="2.9" height="24.00" fill="#f20d0d"/>
<rect x="140.53" y="146.20" width="3.77" height="68.10" fill="#8f9a9a"/>
<rect x="140.96" y="146.20" width="2.9" height="9.60" fill="#19e3e6"/>
<rect x="140.96" y="155.80" width="2.9" height="1.50" fill="#ffe81a"/>
<rect x="140.96" y="157.30" width="2.9" height="1.30" fill="#0a14f0"/>
<rect x="140.96" y="158.60" width="2.9" height="27.90" fill="#12c812"/>
<rect x="140.96" y="186.50" width="2.9" height="27.80" fill="#f20d0d"/>
<rect x="144.30" y="144.80" width="3.77" height="69.50" fill="#8f9a9a"/>
<rect x="144.73" y="144.80" width="2.9" height="8.70" fill="#19e3e6"/>
<rect x="144.73" y="153.50" width="2.9" height="29.70" fill="#12c812"/>
<rect x="144.73" y="183.20" width="2.9" height="31.10" fill="#f20d0d"/>
<rect x="144.73" y="214.30" width="2.9" height="1.80" fill="#f08010"/>
<rect x="148.06" y="144.20" width="3.77" height="70.10" fill="#8f9a9a"/>
<rect x="148.50" y="144.20" width="2.9" height="11.00" fill="#19e3e6"/>
<rect x="148.50" y="155.20" width="2.9" height="4.40" fill="#0a14f0"/>
<rect x="148.50" y="159.60" width="2.9" height="26.30" fill="#12c812"/>
<rect x="148.50" y="185.90" width="2.9" height="28.40" fill="#f20d0d"/>
<rect x="151.84" y="145.50" width="3.77" height="68.80" fill="#8f9a9a"/>
<rect x="152.27" y="145.50" width="2.9" height="11.80" fill="#19e3e6"/>
<rect x="152.27" y="157.30" width="2.9" height="27.30" fill="#12c812"/>
<rect x="152.27" y="184.60" width="2.9" height="29.70" fill="#f20d0d"/>
<rect x="155.61" y="149.00" width="3.77" height="65.30" fill="#8f9a9a"/>
<rect x="156.04" y="149.00" width="2.9" height="11.30" fill="#19e3e6"/>
<rect x="156.04" y="160.30" width="2.9" height="27.50" fill="#12c812"/>
<rect x="156.04" y="187.80" width="2.9" height="26.50" fill="#f20d0d"/>
<rect x="156.04" y="214.30" width="2.9" height="1.50" fill="#f08010"/>
<rect x="159.38" y="151.80" width="3.77" height="62.50" fill="#8f9a9a"/>
<rect x="159.81" y="151.80" width="2.9" height="14.20" fill="#19e3e6"/>
<rect x="159.81" y="166.00" width="2.9" height="21.80" fill="#12c812"/>
<rect x="159.81" y="187.80" width="2.9" height="26.50" fill="#f20d0d"/>
<rect x="159.81" y="214.30" width="2.9" height="1.20" fill="#f08010"/>
<rect x="163.15" y="156.40" width="3.77" height="57.90" fill="#8f9a9a"/>
<rect x="163.58" y="156.40" width="2.9" height="15.30" fill="#19e3e6"/>
<rect x="163.58" y="171.70" width="2.9" height="18.60" fill="#12c812"/>
<rect x="163.58" y="190.30" width="2.9" height="24.00" fill="#f20d0d"/>
<rect x="163.58" y="214.30" width="2.9" height="1.60" fill="#f08010"/>
<polyline points="78.32,158.70 82.09,160.30 85.86,163.20 89.63,164.40 93.40,163.90 97.17,161.80 100.94,160.00 104.71,157.10 108.48,152.70 112.25,149.10 116.02,148.20 119.79,147.20 123.56,149.00 127.33,155.30 131.10,154.60 134.87,152.50 138.64,150.00 142.41,146.20 146.18,144.80 149.95,144.20 153.72,145.50 157.49,149.00 161.26,151.80 165.03,156.40" fill="none" stroke="#111" stroke-width="0.95" stroke-linejoin="round"/>
<circle cx="78.32" cy="158.70" r="1.5" fill="#000"/>
<circle cx="82.09" cy="160.30" r="1.5" fill="#000"/>
<circle cx="85.86" cy="163.20" r="1.5" fill="#000"/>
<circle cx="89.63" cy="164.40" r="1.5" fill="#000"/>
<circle cx="93.40" cy="163.90" r="1.5" fill="#000"/>
<circle cx="97.17" cy="161.80" r="1.5" fill="#000"/>
<circle cx="100.94" cy="160.00" r="1.5" fill="#000"/>
<circle cx="104.71" cy="157.10" r="1.5" fill="#000"/>
<circle cx="108.48" cy="152.70" r="1.5" fill="#000"/>
<circle cx="112.25" cy="149.10" r="1.5" fill="#000"/>
<circle cx="116.02" cy="148.20" r="1.5" fill="#000"/>
<circle cx="119.79" cy="147.20" r="1.5" fill="#000"/>
<circle cx="123.56" cy="149.00" r="1.5" fill="#000"/>
<circle cx="127.33" cy="155.30" r="1.5" fill="#000"/>
<circle cx="131.10" cy="154.60" r="1.5" fill="#000"/>
<circle cx="134.87" cy="152.50" r="1.5" fill="#000"/>
<circle cx="138.64" cy="150.00" r="1.5" fill="#000"/>
<circle cx="142.41" cy="146.20" r="1.5" fill="#000"/>
<circle cx="146.18" cy="144.80" r="1.5" fill="#000"/>
<circle cx="149.95" cy="144.20" r="1.5" fill="#000"/>
<circle cx="153.72" cy="145.50" r="1.5" fill="#000"/>
<circle cx="157.49" cy="149.00" r="1.5" fill="#000"/>
<circle cx="161.26" cy="151.80" r="1.5" fill="#000"/>
<circle cx="165.03" cy="156.40" r="1.5" fill="#000"/>
<text x="73.00" y="159.20" font-size="5.0" font-weight="bold" text-anchor="end" fill="#000" textLength="6.0" lengthAdjust="spacingAndGlyphs">100</text>
<text x="73.00" y="187.70" font-size="5.0" font-weight="bold" text-anchor="end" fill="#000" textLength="4.0" lengthAdjust="spacingAndGlyphs">50</text>
<text x="73.00" y="216.00" font-size="5.0" font-weight="bold" text-anchor="end" fill="#000" textLength="2.0" lengthAdjust="spacingAndGlyphs">0</text>
<text transform="translate(78.82 223.2) rotate(-36) scale(0.66 1.45)" font-size="4.1" letter-spacing="0.9" font-weight="bold" text-anchor="middle" dominant-baseline="central" fill="#000">1</text>
<text transform="translate(82.59 223.2) rotate(-36) scale(0.66 1.45)" font-size="4.1" letter-spacing="0.9" font-weight="bold" text-anchor="middle" dominant-baseline="central" fill="#000">2</text>
<text transform="translate(86.36 223.2) rotate(-36) scale(0.66 1.45)" font-size="4.1" letter-spacing="0.9" font-weight="bold" text-anchor="middle" dominant-baseline="central" fill="#000">3</text>
<text transform="translate(90.13 223.2) rotate(-36) scale(0.66 1.45)" font-size="4.1" letter-spacing="0.9" font-weight="bold" text-anchor="middle" dominant-baseline="central" fill="#000">4</text>
<text transform="translate(93.90 223.2) rotate(-36) scale(0.66 1.45)" font-size="4.1" letter-spacing="0.9" font-weight="bold" text-anchor="middle" dominant-baseline="central" fill="#000">5</text>
<text transform="translate(97.67 223.2) rotate(-36) scale(0.66 1.45)" font-size="4.1" letter-spacing="0.9" font-weight="bold" text-anchor="middle" dominant-baseline="central" fill="#000">6</text>
<text transform="translate(101.44 223.2) rotate(-36) scale(0.66 1.45)" font-size="4.1" letter-spacing="0.9" font-weight="bold" text-anchor="middle" dominant-baseline="central" fill="#000">7</text>
<text transform="translate(105.21 223.2) rotate(-36) scale(0.66 1.45)" font-size="4.1" letter-spacing="0.9" font-weight="bold" text-anchor="middle" dominant-baseline="central" fill="#000">8</text>
<text transform="translate(108.98 223.2) rotate(-36) scale(0.66 1.45)" font-size="4.1" letter-spacing="0.9" font-weight="bold" text-anchor="middle" dominant-baseline="central" fill="#000">9</text>
<text transform="translate(112.75 223.2) rotate(-36) scale(0.66 1.45)" font-size="4.1" letter-spacing="0.9" font-weight="bold" text-anchor="middle" dominant-baseline="central" fill="#000">10</text>
<text transform="translate(116.52 223.2) rotate(-36) scale(0.66 1.45)" font-size="4.1" letter-spacing="0.9" font-weight="bold" text-anchor="middle" dominant-baseline="central" fill="#000">11</text>
<text transform="translate(120.29 223.2) rotate(-36) scale(0.66 1.45)" font-size="4.1" letter-spacing="0.9" font-weight="bold" text-anchor="middle" dominant-baseline="central" fill="#000">12</text>
<text transform="translate(124.06 223.2) rotate(-36) scale(0.66 1.45)" font-size="4.1" letter-spacing="0.9" font-weight="bold" text-anchor="middle" dominant-baseline="central" fill="#000">13</text>
<text transform="translate(127.83 223.2) rotate(-36) scale(0.66 1.45)" font-size="4.1" letter-spacing="0.9" font-weight="bold" text-anchor="middle" dominant-baseline="central" fill="#000">14</text>
<text transform="translate(131.60 223.2) rotate(-36) scale(0.66 1.45)" font-size="4.1" letter-spacing="0.9" font-weight="bold" text-anchor="middle" dominant-baseline="central" fill="#000">15</text>
<text transform="translate(135.37 223.2) rotate(-36) scale(0.66 1.45)" font-size="4.1" letter-spacing="0.9" font-weight="bold" text-anchor="middle" dominant-baseline="central" fill="#000">16</text>
<text transform="translate(139.14 223.2) rotate(-36) scale(0.66 1.45)" font-size="4.1" letter-spacing="0.9" font-weight="bold" text-anchor="middle" dominant-baseline="central" fill="#000">17</text>
<text transform="translate(142.91 223.2) rotate(-36) scale(0.66 1.45)" font-size="4.1" letter-spacing="0.9" font-weight="bold" text-anchor="middle" dominant-baseline="central" fill="#000">18</text>
<text transform="translate(146.68 223.2) rotate(-36) scale(0.66 1.45)" font-size="4.1" letter-spacing="0.9" font-weight="bold" text-anchor="middle" dominant-baseline="central" fill="#000">19</text>
<text transform="translate(150.45 223.2) rotate(-36) scale(0.66 1.45)" font-size="4.1" letter-spacing="0.9" font-weight="bold" text-anchor="middle" dominant-baseline="central" fill="#000">20</text>
<text transform="translate(154.22 223.2) rotate(-36) scale(0.66 1.45)" font-size="4.1" letter-spacing="0.9" font-weight="bold" text-anchor="middle" dominant-baseline="central" fill="#000">21</text>
<text transform="translate(157.99 223.2) rotate(-36) scale(0.66 1.45)" font-size="4.1" letter-spacing="0.9" font-weight="bold" text-anchor="middle" dominant-baseline="central" fill="#000">22</text>
<text transform="translate(161.76 223.2) rotate(-36) scale(0.66 1.45)" font-size="4.1" letter-spacing="0.9" font-weight="bold" text-anchor="middle" dominant-baseline="central" fill="#000">23</text>
<text transform="translate(165.53 223.2) rotate(-36) scale(0.66 1.45)" font-size="4.1" letter-spacing="0.9" font-weight="bold" text-anchor="middle" dominant-baseline="central" fill="#000">24</text>
<text x="121.5" y="130.6" font-size="5.4" text-anchor="middle" textLength="62.5" lengthAdjust="spacingAndGlyphs" fill="#000">Electric Power Balance(summer)</text>
<text x="122.60" y="234.5" font-size="5.2" text-anchor="middle" textLength="21.3" lengthAdjust="spacingAndGlyphs" fill="#111">Time (hour)</text>
<text transform="translate(66.40 174.2) rotate(-90)" font-size="3.9" font-weight="bold" text-anchor="middle" textLength="34" lengthAdjust="spacingAndGlyphs" fill="#111" class="yb">Power (kW)</text>
<rect x="89.40" y="239.9" width="65" height="11.2" fill="#fff" stroke="#b5b5b5" stroke-width="0.5"/>
<rect x="90.80" y="241.15" width="8.6" height="3.2" fill="#f20d0d" stroke="#777" stroke-width="0.25"/>
<text x="100.00" y="243.80" font-size="2.6" font-weight="bold" fill="#222" class="lg">Pfc</text>
<rect x="106.90" y="241.15" width="8.6" height="3.2" fill="#12c812" stroke="#777" stroke-width="0.25"/>
<text x="116.10" y="243.80" font-size="2.6" font-weight="bold" fill="#222" class="lg">Pb</text>
<rect x="122.20" y="241.15" width="8.6" height="3.2" fill="#0a14f0" stroke="#777" stroke-width="0.25"/>
<text x="131.40" y="243.80" font-size="2.6" font-weight="bold" fill="#222" class="lg">Pdis</text>
<rect x="140.00" y="241.15" width="8.6" height="3.2" fill="#ffe81a" stroke="#777" stroke-width="0.25"/>
<text x="149.20" y="243.80" font-size="2.6" font-weight="bold" fill="#222" class="lg">Ppv</text>
<rect x="90.80" y="246.20" width="8.6" height="3.2" fill="#19e3e6" stroke="#777" stroke-width="0.25"/>
<text x="100.00" y="248.90" font-size="2.6" font-weight="bold" fill="#222" class="lg">Pwt</text>
<rect x="106.90" y="246.20" width="8.6" height="3.2" fill="#f08010" stroke="#777" stroke-width="0.25"/>
<text x="116.10" y="248.90" font-size="2.6" font-weight="bold" fill="#222" class="lg">Pch</text>
<path d="M122.20 247.80h8.6" stroke="#111" stroke-width="0.95"/>
<circle cx="126.50" cy="247.80" r="1.35" fill="#000"/>
<text x="131.40" y="248.90" font-size="2.6" font-weight="bold" fill="#222" class="lg">Pload</text>
<path d="M187.85 133.5V215.3" stroke="#f8f6f6" stroke-width="0.6"/>
<path d="M191.62 133.5V215.3" stroke="#f8f6f6" stroke-width="0.6"/>
<path d="M195.39 133.5V215.3" stroke="#f8f6f6" stroke-width="0.6"/>
<path d="M199.16 133.5V215.3" stroke="#f8f6f6" stroke-width="0.6"/>
<path d="M202.93 133.5V215.3" stroke="#f8f6f6" stroke-width="0.6"/>
<path d="M206.70 133.5V215.3" stroke="#f8f6f6" stroke-width="0.6"/>
<path d="M210.47 133.5V215.3" stroke="#f8f6f6" stroke-width="0.6"/>
<path d="M214.24 133.5V215.3" stroke="#f8f6f6" stroke-width="0.6"/>
<path d="M218.01 133.5V215.3" stroke="#f8f6f6" stroke-width="0.6"/>
<path d="M221.78 133.5V215.3" stroke="#f8f6f6" stroke-width="0.6"/>
<path d="M225.55 133.5V215.3" stroke="#f8f6f6" stroke-width="0.6"/>
<path d="M229.32 133.5V215.3" stroke="#f8f6f6" stroke-width="0.6"/>
<path d="M233.09 133.5V215.3" stroke="#f8f6f6" stroke-width="0.6"/>
<path d="M236.86 133.5V215.3" stroke="#f8f6f6" stroke-width="0.6"/>
<path d="M240.63 133.5V215.3" stroke="#f8f6f6" stroke-width="0.6"/>
<path d="M244.40 133.5V215.3" stroke="#f8f6f6" stroke-width="0.6"/>
<path d="M248.17 133.5V215.3" stroke="#f8f6f6" stroke-width="0.6"/>
<path d="M251.94 133.5V215.3" stroke="#f8f6f6" stroke-width="0.6"/>
<path d="M255.71 133.5V215.3" stroke="#f8f6f6" stroke-width="0.6"/>
<path d="M259.49 133.5V215.3" stroke="#f8f6f6" stroke-width="0.6"/>
<path d="M263.25 133.5V215.3" stroke="#f8f6f6" stroke-width="0.6"/>
<path d="M267.02 133.5V215.3" stroke="#f8f6f6" stroke-width="0.6"/>
<path d="M270.79 133.5V215.3" stroke="#f8f6f6" stroke-width="0.6"/>
<path d="M274.56 133.5V215.3" stroke="#f8f6f6" stroke-width="0.6"/>
<path d="M181.4 133.5V215.3" stroke="#c9c9c9" stroke-width="0.7"/>
<path d="M181.4 215.3H274.58" stroke="#bcd0d6" stroke-width="0.7" stroke-dasharray="1.2 0.7"/>
<rect x="184.09" y="159.90" width="3.77" height="53.50" fill="#8f9a9a"/>
<rect x="184.52" y="159.90" width="2.9" height="14.00" fill="#19e3e6"/>
<rect x="184.52" y="173.90" width="2.9" height="15.30" fill="#12c812"/>
<rect x="184.52" y="189.20" width="2.9" height="24.20" fill="#f20d0d"/>
<rect x="184.52" y="213.40" width="2.9" height="0.70" fill="#f08010"/>
<rect x="187.85" y="161.50" width="3.77" height="51.90" fill="#8f9a9a"/>
<rect x="188.29" y="161.50" width="2.9" height="15.20" fill="#19e3e6"/>
<rect x="188.29" y="176.70" width="2.9" height="14.40" fill="#12c812"/>
<rect x="188.29" y="191.10" width="2.9" height="22.30" fill="#f20d0d"/>
<rect x="188.29" y="213.40" width="2.9" height="1.60" fill="#f08010"/>
<rect x="191.62" y="163.00" width="3.77" height="50.40" fill="#8f9a9a"/>
<rect x="192.06" y="163.00" width="2.9" height="15.60" fill="#19e3e6"/>
<rect x="192.06" y="178.60" width="2.9" height="2.50" fill="#0a14f0"/>
<rect x="192.06" y="181.10" width="2.9" height="12.50" fill="#12c812"/>
<rect x="192.06" y="193.60" width="2.9" height="19.80" fill="#f20d0d"/>
<rect x="195.40" y="164.30" width="3.77" height="49.10" fill="#8f9a9a"/>
<rect x="195.83" y="164.30" width="2.9" height="16.50" fill="#19e3e6"/>
<rect x="195.83" y="180.80" width="2.9" height="2.20" fill="#0a14f0"/>
<rect x="195.83" y="183.00" width="2.9" height="13.00" fill="#12c812"/>
<rect x="195.83" y="196.00" width="2.9" height="17.40" fill="#f20d0d"/>
<rect x="199.16" y="163.70" width="3.77" height="49.70" fill="#8f9a9a"/>
<rect x="199.60" y="163.70" width="2.9" height="16.20" fill="#19e3e6"/>
<rect x="199.60" y="179.90" width="2.9" height="16.80" fill="#12c812"/>
<rect x="199.60" y="196.70" width="2.9" height="16.70" fill="#f20d0d"/>
<rect x="199.60" y="213.40" width="2.9" height="0.60" fill="#f08010"/>
<rect x="202.94" y="162.40" width="3.77" height="51.00" fill="#8f9a9a"/>
<rect x="203.37" y="162.40" width="2.9" height="15.80" fill="#19e3e6"/>
<rect x="203.37" y="178.20" width="2.9" height="20.00" fill="#12c812"/>
<rect x="203.37" y="198.20" width="2.9" height="15.20" fill="#f20d0d"/>
<rect x="203.37" y="213.40" width="2.9" height="1.60" fill="#f08010"/>
<rect x="206.70" y="159.20" width="3.77" height="54.20" fill="#8f9a9a"/>
<rect x="207.14" y="159.20" width="2.9" height="16.80" fill="#19e3e6"/>
<rect x="207.14" y="176.00" width="2.9" height="0.60" fill="#f08010"/>
<rect x="207.14" y="176.60" width="2.9" height="19.40" fill="#12c812"/>
<rect x="207.14" y="196.00" width="2.9" height="17.40" fill="#f20d0d"/>
<rect x="210.47" y="155.40" width="3.77" height="58.00" fill="#8f9a9a"/>
<rect x="210.91" y="155.40" width="2.9" height="14.20" fill="#19e3e6"/>
<rect x="210.91" y="169.60" width="2.9" height="1.40" fill="#f08010"/>
<rect x="210.91" y="171.00" width="2.9" height="20.40" fill="#12c812"/>
<rect x="210.91" y="191.40" width="2.9" height="22.00" fill="#f20d0d"/>
<rect x="210.91" y="213.40" width="2.9" height="1.60" fill="#f08010"/>
<rect x="214.25" y="152.90" width="3.77" height="60.50" fill="#8f9a9a"/>
<rect x="214.68" y="152.90" width="2.9" height="15.20" fill="#19e3e6"/>
<rect x="214.68" y="168.10" width="2.9" height="2.80" fill="#ffe81a"/>
<rect x="214.68" y="170.90" width="2.9" height="17.90" fill="#12c812"/>
<rect x="214.68" y="188.80" width="2.9" height="24.60" fill="#f20d0d"/>
<rect x="218.01" y="151.00" width="3.77" height="62.40" fill="#8f9a9a"/>
<rect x="218.45" y="151.00" width="2.9" height="14.00" fill="#19e3e6"/>
<rect x="218.45" y="165.00" width="2.9" height="3.80" fill="#ffe81a"/>
<rect x="218.45" y="168.80" width="2.9" height="2.10" fill="#0a14f0"/>
<rect x="218.45" y="170.90" width="2.9" height="20.10" fill="#12c812"/>
<rect x="218.45" y="191.00" width="2.9" height="22.40" fill="#f20d0d"/>
<rect x="221.78" y="149.70" width="3.77" height="63.70" fill="#8f9a9a"/>
<rect x="222.22" y="149.70" width="2.9" height="14.70" fill="#19e3e6"/>
<rect x="222.22" y="164.40" width="2.9" height="4.80" fill="#ffe81a"/>
<rect x="222.22" y="169.20" width="2.9" height="20.80" fill="#12c812"/>
<rect x="222.22" y="190.00" width="2.9" height="23.40" fill="#f20d0d"/>
<rect x="225.56" y="149.10" width="3.77" height="64.30" fill="#8f9a9a"/>
<rect x="225.99" y="149.10" width="2.9" height="15.20" fill="#19e3e6"/>
<rect x="225.99" y="164.30" width="2.9" height="5.00" fill="#ffe81a"/>
<rect x="225.99" y="169.30" width="2.9" height="3.20" fill="#0a14f0"/>
<rect x="225.99" y="172.50" width="2.9" height="19.30" fill="#12c812"/>
<rect x="225.99" y="191.80" width="2.9" height="21.60" fill="#f20d0d"/>
<rect x="229.32" y="150.00" width="3.77" height="63.40" fill="#8f9a9a"/>
<rect x="229.76" y="150.00" width="2.9" height="14.80" fill="#19e3e6"/>
<rect x="229.76" y="164.80" width="2.9" height="4.50" fill="#ffe81a"/>
<rect x="229.76" y="169.30" width="2.9" height="19.30" fill="#12c812"/>
<rect x="229.76" y="188.60" width="2.9" height="24.80" fill="#f20d0d"/>
<rect x="229.76" y="213.40" width="2.9" height="1.20" fill="#f08010"/>
<rect x="233.09" y="153.80" width="3.77" height="59.60" fill="#8f9a9a"/>
<rect x="233.53" y="153.80" width="2.9" height="16.20" fill="#19e3e6"/>
<rect x="233.53" y="170.00" width="2.9" height="3.80" fill="#ffe81a"/>
<rect x="233.53" y="173.80" width="2.9" height="16.70" fill="#12c812"/>
<rect x="233.53" y="190.50" width="2.9" height="22.90" fill="#f20d0d"/>
<rect x="236.87" y="154.80" width="3.77" height="58.60" fill="#8f9a9a"/>
<rect x="237.30" y="154.80" width="2.9" height="14.90" fill="#19e3e6"/>
<rect x="237.30" y="169.70" width="2.9" height="2.20" fill="#ffe81a"/>
<rect x="237.30" y="171.90" width="2.9" height="20.50" fill="#12c812"/>
<rect x="237.30" y="192.40" width="2.9" height="21.00" fill="#f20d0d"/>
<rect x="240.63" y="152.50" width="3.77" height="60.90" fill="#8f9a9a"/>
<rect x="241.07" y="152.50" width="2.9" height="13.90" fill="#19e3e6"/>
<rect x="241.07" y="166.40" width="2.9" height="1.00" fill="#f08010"/>
<rect x="241.07" y="167.40" width="2.9" height="21.20" fill="#12c812"/>
<rect x="241.07" y="188.60" width="2.9" height="24.80" fill="#f20d0d"/>
<rect x="241.07" y="213.40" width="2.9" height="2.50" fill="#f08010"/>
<rect x="244.41" y="149.30" width="3.77" height="64.10" fill="#8f9a9a"/>
<rect x="244.84" y="149.30" width="2.9" height="16.60" fill="#19e3e6"/>
<rect x="244.84" y="165.90" width="2.9" height="2.80" fill="#0a14f0"/>
<rect x="244.84" y="168.70" width="2.9" height="19.90" fill="#12c812"/>
<rect x="244.84" y="188.60" width="2.9" height="24.80" fill="#f20d0d"/>
<rect x="248.18" y="146.80" width="3.77" height="66.60" fill="#8f9a9a"/>
<rect x="248.61" y="146.80" width="2.9" height="18.10" fill="#19e3e6"/>
<rect x="248.61" y="164.90" width="2.9" height="23.70" fill="#12c812"/>
<rect x="248.61" y="188.60" width="2.9" height="24.80" fill="#f20d0d"/>
<rect x="251.94" y="144.90" width="3.77" height="68.50" fill="#8f9a9a"/>
<rect x="252.38" y="144.90" width="2.9" height="16.80" fill="#19e3e6"/>
<rect x="252.38" y="161.70" width="2.9" height="24.30" fill="#12c812"/>
<rect x="252.38" y="186.00" width="2.9" height="27.40" fill="#f20d0d"/>
<rect x="252.38" y="213.40" width="2.9" height="1.20" fill="#f08010"/>
<rect x="255.72" y="146.20" width="3.77" height="67.20" fill="#8f9a9a"/>
<rect x="256.15" y="146.20" width="2.9" height="17.70" fill="#19e3e6"/>
<rect x="256.15" y="163.90" width="2.9" height="1.20" fill="#0a14f0"/>
<rect x="256.15" y="165.10" width="2.9" height="21.50" fill="#12c812"/>
<rect x="256.15" y="186.60" width="2.9" height="26.80" fill="#f20d0d"/>
<rect x="259.49" y="148.40" width="3.77" height="65.00" fill="#8f9a9a"/>
<rect x="259.92" y="148.40" width="2.9" height="17.10" fill="#19e3e6"/>
<rect x="259.92" y="165.50" width="2.9" height="2.60" fill="#0a14f0"/>
<rect x="259.92" y="168.10" width="2.9" height="20.50" fill="#12c812"/>
<rect x="259.92" y="188.60" width="2.9" height="24.80" fill="#f20d0d"/>
<rect x="263.25" y="151.50" width="3.77" height="61.90" fill="#8f9a9a"/>
<rect x="263.69" y="151.50" width="2.9" height="16.60" fill="#19e3e6"/>
<rect x="263.69" y="168.10" width="2.9" height="0.90" fill="#0a14f0"/>
<rect x="263.69" y="169.00" width="2.9" height="20.10" fill="#12c812"/>
<rect x="263.69" y="189.10" width="2.9" height="24.30" fill="#f20d0d"/>
<rect x="267.02" y="155.00" width="3.77" height="58.40" fill="#8f9a9a"/>
<rect x="267.46" y="155.00" width="2.9" height="16.00" fill="#19e3e6"/>
<rect x="267.46" y="171.00" width="2.9" height="20.00" fill="#12c812"/>
<rect x="267.46" y="191.00" width="2.9" height="22.40" fill="#f20d0d"/>
<rect x="270.80" y="158.60" width="3.77" height="54.80" fill="#8f9a9a"/>
<rect x="271.23" y="158.60" width="2.9" height="13.90" fill="#19e3e6"/>
<rect x="271.23" y="172.50" width="2.9" height="20.50" fill="#12c812"/>
<rect x="271.23" y="193.00" width="2.9" height="20.40" fill="#f20d0d"/>
<rect x="271.23" y="213.40" width="2.9" height="1.50" fill="#f08010"/>
<polyline points="185.97,159.90 189.74,161.50 193.51,163.00 197.28,164.30 201.05,163.70 204.82,162.40 208.59,159.20 212.36,155.40 216.13,152.90 219.90,151.00 223.67,149.70 227.44,149.10 231.21,150.00 234.98,153.80 238.75,154.80 242.52,152.50 246.29,149.30 250.06,146.80 253.83,144.90 257.60,146.20 261.37,148.40 265.14,151.50 268.91,155.00 272.68,158.60" fill="none" stroke="#111" stroke-width="0.95" stroke-linejoin="round"/>
<circle cx="185.97" cy="159.90" r="1.5" fill="#000"/>
<circle cx="189.74" cy="161.50" r="1.5" fill="#000"/>
<circle cx="193.51" cy="163.00" r="1.5" fill="#000"/>
<circle cx="197.28" cy="164.30" r="1.5" fill="#000"/>
<circle cx="201.05" cy="163.70" r="1.5" fill="#000"/>
<circle cx="204.82" cy="162.40" r="1.5" fill="#000"/>
<circle cx="208.59" cy="159.20" r="1.5" fill="#000"/>
<circle cx="212.36" cy="155.40" r="1.5" fill="#000"/>
<circle cx="216.13" cy="152.90" r="1.5" fill="#000"/>
<circle cx="219.90" cy="151.00" r="1.5" fill="#000"/>
<circle cx="223.67" cy="149.70" r="1.5" fill="#000"/>
<circle cx="227.44" cy="149.10" r="1.5" fill="#000"/>
<circle cx="231.21" cy="150.00" r="1.5" fill="#000"/>
<circle cx="234.98" cy="153.80" r="1.5" fill="#000"/>
<circle cx="238.75" cy="154.80" r="1.5" fill="#000"/>
<circle cx="242.52" cy="152.50" r="1.5" fill="#000"/>
<circle cx="246.29" cy="149.30" r="1.5" fill="#000"/>
<circle cx="250.06" cy="146.80" r="1.5" fill="#000"/>
<circle cx="253.83" cy="144.90" r="1.5" fill="#000"/>
<circle cx="257.60" cy="146.20" r="1.5" fill="#000"/>
<circle cx="261.37" cy="148.40" r="1.5" fill="#000"/>
<circle cx="265.14" cy="151.50" r="1.5" fill="#000"/>
<circle cx="268.91" cy="155.00" r="1.5" fill="#000"/>
<circle cx="272.68" cy="158.60" r="1.5" fill="#000"/>
<text x="180.20" y="150.10" font-size="5.0" font-weight="bold" text-anchor="end" fill="#000" textLength="6.0" lengthAdjust="spacingAndGlyphs">150</text>
<text x="180.20" y="171.70" font-size="5.0" font-weight="bold" text-anchor="end" fill="#000" textLength="6.0" lengthAdjust="spacingAndGlyphs">100</text>
<text x="180.20" y="193.00" font-size="5.0" font-weight="bold" text-anchor="end" fill="#000" textLength="4.0" lengthAdjust="spacingAndGlyphs">50</text>
<text x="180.20" y="215.10" font-size="5.0" font-weight="bold" text-anchor="end" fill="#000" textLength="2.0" lengthAdjust="spacingAndGlyphs">0</text>
<text transform="translate(186.47 223.2) rotate(-36) scale(0.66 1.45)" font-size="4.1" letter-spacing="0.9" font-weight="bold" text-anchor="middle" dominant-baseline="central" fill="#000">1</text>
<text transform="translate(190.24 223.2) rotate(-36) scale(0.66 1.45)" font-size="4.1" letter-spacing="0.9" font-weight="bold" text-anchor="middle" dominant-baseline="central" fill="#000">2</text>
<text transform="translate(194.01 223.2) rotate(-36) scale(0.66 1.45)" font-size="4.1" letter-spacing="0.9" font-weight="bold" text-anchor="middle" dominant-baseline="central" fill="#000">3</text>
<text transform="translate(197.78 223.2) rotate(-36) scale(0.66 1.45)" font-size="4.1" letter-spacing="0.9" font-weight="bold" text-anchor="middle" dominant-baseline="central" fill="#000">4</text>
<text transform="translate(201.55 223.2) rotate(-36) scale(0.66 1.45)" font-size="4.1" letter-spacing="0.9" font-weight="bold" text-anchor="middle" dominant-baseline="central" fill="#000">5</text>
<text transform="translate(205.32 223.2) rotate(-36) scale(0.66 1.45)" font-size="4.1" letter-spacing="0.9" font-weight="bold" text-anchor="middle" dominant-baseline="central" fill="#000">6</text>
<text transform="translate(209.09 223.2) rotate(-36) scale(0.66 1.45)" font-size="4.1" letter-spacing="0.9" font-weight="bold" text-anchor="middle" dominant-baseline="central" fill="#000">7</text>
<text transform="translate(212.86 223.2) rotate(-36) scale(0.66 1.45)" font-size="4.1" letter-spacing="0.9" font-weight="bold" text-anchor="middle" dominant-baseline="central" fill="#000">8</text>
<text transform="translate(216.63 223.2) rotate(-36) scale(0.66 1.45)" font-size="4.1" letter-spacing="0.9" font-weight="bold" text-anchor="middle" dominant-baseline="central" fill="#000">9</text>
<text transform="translate(220.40 223.2) rotate(-36) scale(0.66 1.45)" font-size="4.1" letter-spacing="0.9" font-weight="bold" text-anchor="middle" dominant-baseline="central" fill="#000">10</text>
<text transform="translate(224.17 223.2) rotate(-36) scale(0.66 1.45)" font-size="4.1" letter-spacing="0.9" font-weight="bold" text-anchor="middle" dominant-baseline="central" fill="#000">11</text>
<text transform="translate(227.94 223.2) rotate(-36) scale(0.66 1.45)" font-size="4.1" letter-spacing="0.9" font-weight="bold" text-anchor="middle" dominant-baseline="central" fill="#000">12</text>
<text transform="translate(231.71 223.2) rotate(-36) scale(0.66 1.45)" font-size="4.1" letter-spacing="0.9" font-weight="bold" text-anchor="middle" dominant-baseline="central" fill="#000">13</text>
<text transform="translate(235.48 223.2) rotate(-36) scale(0.66 1.45)" font-size="4.1" letter-spacing="0.9" font-weight="bold" text-anchor="middle" dominant-baseline="central" fill="#000">14</text>
<text transform="translate(239.25 223.2) rotate(-36) scale(0.66 1.45)" font-size="4.1" letter-spacing="0.9" font-weight="bold" text-anchor="middle" dominant-baseline="central" fill="#000">15</text>
<text transform="translate(243.02 223.2) rotate(-36) scale(0.66 1.45)" font-size="4.1" letter-spacing="0.9" font-weight="bold" text-anchor="middle" dominant-baseline="central" fill="#000">16</text>
<text transform="translate(246.79 223.2) rotate(-36) scale(0.66 1.45)" font-size="4.1" letter-spacing="0.9" font-weight="bold" text-anchor="middle" dominant-baseline="central" fill="#000">17</text>
<text transform="translate(250.56 223.2) rotate(-36) scale(0.66 1.45)" font-size="4.1" letter-spacing="0.9" font-weight="bold" text-anchor="middle" dominant-baseline="central" fill="#000">18</text>
<text transform="translate(254.33 223.2) rotate(-36) scale(0.66 1.45)" font-size="4.1" letter-spacing="0.9" font-weight="bold" text-anchor="middle" dominant-baseline="central" fill="#000">19</text>
<text transform="translate(258.10 223.2) rotate(-36) scale(0.66 1.45)" font-size="4.1" letter-spacing="0.9" font-weight="bold" text-anchor="middle" dominant-baseline="central" fill="#000">20</text>
<text transform="translate(261.87 223.2) rotate(-36) scale(0.66 1.45)" font-size="4.1" letter-spacing="0.9" font-weight="bold" text-anchor="middle" dominant-baseline="central" fill="#000">21</text>
<text transform="translate(265.64 223.2) rotate(-36) scale(0.66 1.45)" font-size="4.1" letter-spacing="0.9" font-weight="bold" text-anchor="middle" dominant-baseline="central" fill="#000">22</text>
<text transform="translate(269.41 223.2) rotate(-36) scale(0.66 1.45)" font-size="4.1" letter-spacing="0.9" font-weight="bold" text-anchor="middle" dominant-baseline="central" fill="#000">23</text>
<text transform="translate(273.18 223.2) rotate(-36) scale(0.66 1.45)" font-size="4.1" letter-spacing="0.9" font-weight="bold" text-anchor="middle" dominant-baseline="central" fill="#000">24</text>
<text x="229.3" y="130.6" font-size="5.4" text-anchor="middle" textLength="56.5" lengthAdjust="spacingAndGlyphs" fill="#000">Electric Power Balance(winter)</text>
<text x="229.30" y="234.5" font-size="5.2" text-anchor="middle" textLength="21.3" lengthAdjust="spacingAndGlyphs" fill="#111">Time (hour)</text>
<text transform="translate(173.10 174.2) rotate(-90)" font-size="3.9" font-weight="bold" text-anchor="middle" textLength="34" lengthAdjust="spacingAndGlyphs" fill="#111" class="yb">Power (kW)</text>
<rect x="197.10" y="239.9" width="65" height="11.2" fill="#fff" stroke="#b5b5b5" stroke-width="0.5"/>
<rect x="198.50" y="241.15" width="8.6" height="3.2" fill="#f20d0d" stroke="#777" stroke-width="0.25"/>
<text x="207.70" y="243.80" font-size="2.6" font-weight="bold" fill="#222" class="lg">Pfc</text>
<rect x="214.60" y="241.15" width="8.6" height="3.2" fill="#12c812" stroke="#777" stroke-width="0.25"/>
<text x="223.80" y="243.80" font-size="2.6" font-weight="bold" fill="#222" class="lg">Pb</text>
<rect x="229.90" y="241.15" width="8.6" height="3.2" fill="#0a14f0" stroke="#777" stroke-width="0.25"/>
<text x="239.10" y="243.80" font-size="2.6" font-weight="bold" fill="#222" class="lg">Pdis</text>
<rect x="247.70" y="241.15" width="8.6" height="3.2" fill="#ffe81a" stroke="#777" stroke-width="0.25"/>
<text x="256.90" y="243.80" font-size="2.6" font-weight="bold" fill="#222" class="lg">Ppv</text>
<rect x="198.50" y="246.20" width="8.6" height="3.2" fill="#19e3e6" stroke="#777" stroke-width="0.25"/>
<text x="207.70" y="248.90" font-size="2.6" font-weight="bold" fill="#222" class="lg">Pwt</text>
<rect x="214.60" y="246.20" width="8.6" height="3.2" fill="#f08010" stroke="#777" stroke-width="0.25"/>
<text x="223.80" y="248.90" font-size="2.6" font-weight="bold" fill="#222" class="lg">Pch</text>
<path d="M229.90 247.80h8.6" stroke="#111" stroke-width="0.95"/>
<circle cx="234.20" cy="247.80" r="1.35" fill="#000"/>
<text x="239.10" y="248.90" font-size="2.6" font-weight="bold" fill="#222" class="lg">Pload</text>
<path d="M295.05 133.5V216.0" stroke="#f8f6f6" stroke-width="0.6"/>
<path d="M298.82 133.5V216.0" stroke="#f8f6f6" stroke-width="0.6"/>
<path d="M302.59 133.5V216.0" stroke="#f8f6f6" stroke-width="0.6"/>
<path d="M306.36 133.5V216.0" stroke="#f8f6f6" stroke-width="0.6"/>
<path d="M310.13 133.5V216.0" stroke="#f8f6f6" stroke-width="0.6"/>
<path d="M313.90 133.5V216.0" stroke="#f8f6f6" stroke-width="0.6"/>
<path d="M317.67 133.5V216.0" stroke="#f8f6f6" stroke-width="0.6"/>
<path d="M321.44 133.5V216.0" stroke="#f8f6f6" stroke-width="0.6"/>
<path d="M325.21 133.5V216.0" stroke="#f8f6f6" stroke-width="0.6"/>
<path d="M328.98 133.5V216.0" stroke="#f8f6f6" stroke-width="0.6"/>
<path d="M332.75 133.5V216.0" stroke="#f8f6f6" stroke-width="0.6"/>
<path d="M336.52 133.5V216.0" stroke="#f8f6f6" stroke-width="0.6"/>
<path d="M340.29 133.5V216.0" stroke="#f8f6f6" stroke-width="0.6"/>
<path d="M344.06 133.5V216.0" stroke="#f8f6f6" stroke-width="0.6"/>
<path d="M347.83 133.5V216.0" stroke="#f8f6f6" stroke-width="0.6"/>
<path d="M351.60 133.5V216.0" stroke="#f8f6f6" stroke-width="0.6"/>
<path d="M355.38 133.5V216.0" stroke="#f8f6f6" stroke-width="0.6"/>
<path d="M359.14 133.5V216.0" stroke="#f8f6f6" stroke-width="0.6"/>
<path d="M362.91 133.5V216.0" stroke="#f8f6f6" stroke-width="0.6"/>
<path d="M366.68 133.5V216.0" stroke="#f8f6f6" stroke-width="0.6"/>
<path d="M370.45 133.5V216.0" stroke="#f8f6f6" stroke-width="0.6"/>
<path d="M374.22 133.5V216.0" stroke="#f8f6f6" stroke-width="0.6"/>
<path d="M377.99 133.5V216.0" stroke="#f8f6f6" stroke-width="0.6"/>
<path d="M381.76 133.5V216.0" stroke="#f8f6f6" stroke-width="0.6"/>
<path d="M288.7 133.5V216.0" stroke="#c9c9c9" stroke-width="0.7"/>
<path d="M288.7 216.0H381.78" stroke="#bcd0d6" stroke-width="0.7" stroke-dasharray="1.2 0.7"/>
<rect x="291.28" y="157.70" width="3.77" height="54.60" fill="#8f9a9a"/>
<rect x="291.72" y="157.70" width="2.9" height="17.20" fill="#19e3e6"/>
<rect x="291.72" y="174.90" width="2.9" height="21.10" fill="#12c812"/>
<rect x="291.72" y="196.00" width="2.9" height="16.30" fill="#f20d0d"/>
<rect x="291.72" y="212.30" width="2.9" height="1.90" fill="#f08010"/>
<rect x="295.06" y="163.50" width="3.77" height="48.80" fill="#8f9a9a"/>
<rect x="295.49" y="163.50" width="2.9" height="17.50" fill="#19e3e6"/>
<rect x="295.49" y="181.00" width="2.9" height="17.50" fill="#12c812"/>
<rect x="295.49" y="198.50" width="2.9" height="13.80" fill="#f20d0d"/>
<rect x="295.49" y="212.30" width="2.9" height="2.00" fill="#f08010"/>
<rect x="298.82" y="159.50" width="3.77" height="52.80" fill="#8f9a9a"/>
<rect x="299.26" y="159.50" width="2.9" height="18.50" fill="#19e3e6"/>
<rect x="299.26" y="178.00" width="2.9" height="4.50" fill="#0a14f0"/>
<rect x="299.26" y="182.50" width="2.9" height="15.40" fill="#12c812"/>
<rect x="299.26" y="197.90" width="2.9" height="14.40" fill="#f20d0d"/>
<rect x="302.59" y="158.00" width="3.77" height="54.30" fill="#8f9a9a"/>
<rect x="303.03" y="158.00" width="2.9" height="20.70" fill="#19e3e6"/>
<rect x="303.03" y="178.70" width="2.9" height="1.50" fill="#0a14f0"/>
<rect x="303.03" y="180.20" width="2.9" height="14.80" fill="#12c812"/>
<rect x="303.03" y="195.00" width="2.9" height="17.30" fill="#f20d0d"/>
<rect x="306.37" y="160.80" width="3.77" height="51.50" fill="#8f9a9a"/>
<rect x="306.80" y="160.80" width="2.9" height="19.40" fill="#19e3e6"/>
<rect x="306.80" y="180.20" width="2.9" height="17.70" fill="#12c812"/>
<rect x="306.80" y="197.90" width="2.9" height="14.40" fill="#f20d0d"/>
<rect x="306.80" y="212.30" width="2.9" height="2.10" fill="#f08010"/>
<rect x="310.13" y="162.20" width="3.77" height="50.10" fill="#8f9a9a"/>
<rect x="310.57" y="162.20" width="2.9" height="18.40" fill="#19e3e6"/>
<rect x="310.57" y="180.60" width="2.9" height="2.50" fill="#0a14f0"/>
<rect x="310.57" y="183.10" width="2.9" height="18.60" fill="#12c812"/>
<rect x="310.57" y="201.70" width="2.9" height="10.60" fill="#f20d0d"/>
<rect x="313.90" y="157.00" width="3.77" height="55.30" fill="#8f9a9a"/>
<rect x="314.34" y="157.00" width="2.9" height="17.60" fill="#19e3e6"/>
<rect x="314.34" y="174.60" width="2.9" height="2.50" fill="#ffe81a"/>
<rect x="314.34" y="177.10" width="2.9" height="18.90" fill="#12c812"/>
<rect x="314.34" y="196.00" width="2.9" height="16.30" fill="#f20d0d"/>
<rect x="314.34" y="212.30" width="2.9" height="1.70" fill="#f08010"/>
<rect x="317.68" y="153.30" width="3.77" height="59.00" fill="#8f9a9a"/>
<rect x="318.11" y="153.30" width="2.9" height="14.60" fill="#19e3e6"/>
<rect x="318.11" y="167.90" width="2.9" height="5.10" fill="#ffe81a"/>
<rect x="318.11" y="173.00" width="2.9" height="22.40" fill="#12c812"/>
<rect x="318.11" y="195.40" width="2.9" height="16.90" fill="#f20d0d"/>
<rect x="318.11" y="212.30" width="2.9" height="2.40" fill="#f08010"/>
<rect x="321.44" y="153.30" width="3.77" height="59.00" fill="#8f9a9a"/>
<rect x="321.88" y="153.30" width="2.9" height="13.90" fill="#19e3e6"/>
<rect x="321.88" y="167.20" width="2.9" height="9.60" fill="#ffe81a"/>
<rect x="321.88" y="176.80" width="2.9" height="22.10" fill="#12c812"/>
<rect x="321.88" y="198.90" width="2.9" height="13.40" fill="#f20d0d"/>
<rect x="321.88" y="212.30" width="2.9" height="1.60" fill="#f08010"/>
<rect x="325.21" y="151.50" width="3.77" height="60.80" fill="#8f9a9a"/>
<rect x="325.65" y="151.50" width="2.9" height="12.50" fill="#19e3e6"/>
<rect x="325.65" y="164.00" width="2.9" height="11.30" fill="#ffe81a"/>
<rect x="325.65" y="175.30" width="2.9" height="7.70" fill="#0a14f0"/>
<rect x="325.65" y="183.00" width="2.9" height="20.60" fill="#12c812"/>
<rect x="325.65" y="203.60" width="2.9" height="8.70" fill="#f20d0d"/>
<rect x="328.99" y="151.20" width="3.77" height="61.10" fill="#8f9a9a"/>
<rect x="329.42" y="151.20" width="2.9" height="13.40" fill="#19e3e6"/>
<rect x="329.42" y="164.60" width="2.9" height="12.40" fill="#ffe81a"/>
<rect x="329.42" y="177.00" width="2.9" height="20.90" fill="#12c812"/>
<rect x="329.42" y="197.90" width="2.9" height="14.40" fill="#f20d0d"/>
<rect x="332.75" y="150.60" width="3.77" height="61.70" fill="#8f9a9a"/>
<rect x="333.19" y="150.60" width="2.9" height="14.00" fill="#19e3e6"/>
<rect x="333.19" y="164.60" width="2.9" height="13.90" fill="#ffe81a"/>
<rect x="333.19" y="178.50" width="2.9" height="19.00" fill="#12c812"/>
<rect x="333.19" y="197.50" width="2.9" height="14.80" fill="#f20d0d"/>
<rect x="336.52" y="148.60" width="3.77" height="63.70" fill="#8f9a9a"/>
<rect x="336.96" y="148.60" width="2.9" height="13.90" fill="#19e3e6"/>
<rect x="336.96" y="162.50" width="2.9" height="12.50" fill="#ffe81a"/>
<rect x="336.96" y="175.00" width="2.9" height="19.10" fill="#12c812"/>
<rect x="336.96" y="194.10" width="2.9" height="18.20" fill="#f20d0d"/>
<rect x="340.29" y="148.70" width="3.77" height="63.60" fill="#8f9a9a"/>
<rect x="340.73" y="148.70" width="2.9" height="14.90" fill="#19e3e6"/>
<rect x="340.73" y="163.60" width="2.9" height="7.60" fill="#ffe81a"/>
<rect x="340.73" y="171.20" width="2.9" height="23.80" fill="#12c812"/>
<rect x="340.73" y="195.00" width="2.9" height="17.30" fill="#f20d0d"/>
<rect x="340.73" y="212.30" width="2.9" height="2.20" fill="#f08010"/>
<rect x="344.06" y="155.50" width="3.77" height="56.80" fill="#8f9a9a"/>
<rect x="344.50" y="155.50" width="2.9" height="15.70" fill="#19e3e6"/>
<rect x="344.50" y="171.20" width="2.9" height="8.60" fill="#ffe81a"/>
<rect x="344.50" y="179.80" width="2.9" height="16.60" fill="#12c812"/>
<rect x="344.50" y="196.40" width="2.9" height="15.90" fill="#f20d0d"/>
<rect x="344.50" y="212.30" width="2.9" height="0.80" fill="#f08010"/>
<rect x="347.83" y="153.10" width="3.77" height="59.20" fill="#8f9a9a"/>
<rect x="348.27" y="153.10" width="2.9" height="16.20" fill="#19e3e6"/>
<rect x="348.27" y="169.30" width="2.9" height="6.70" fill="#ffe81a"/>
<rect x="348.27" y="176.00" width="2.9" height="22.70" fill="#12c812"/>
<rect x="348.27" y="198.70" width="2.9" height="13.60" fill="#f20d0d"/>
<rect x="348.27" y="212.30" width="2.9" height="3.70" fill="#f08010"/>
<rect x="351.61" y="155.60" width="3.77" height="56.70" fill="#8f9a9a"/>
<rect x="352.04" y="155.60" width="2.9" height="14.10" fill="#19e3e6"/>
<rect x="352.04" y="169.70" width="2.9" height="5.30" fill="#ffe81a"/>
<rect x="352.04" y="175.00" width="2.9" height="1.60" fill="#0a14f0"/>
<rect x="352.04" y="176.60" width="2.9" height="19.40" fill="#12c812"/>
<rect x="352.04" y="196.00" width="2.9" height="16.30" fill="#f20d0d"/>
<rect x="355.38" y="153.50" width="3.77" height="58.80" fill="#8f9a9a"/>
<rect x="355.81" y="153.50" width="2.9" height="14.30" fill="#19e3e6"/>
<rect x="355.81" y="167.80" width="2.9" height="1.20" fill="#ffe81a"/>
<rect x="355.81" y="169.00" width="2.9" height="22.20" fill="#12c812"/>
<rect x="355.81" y="191.20" width="2.9" height="21.10" fill="#f20d0d"/>
<rect x="355.81" y="212.30" width="2.9" height="2.20" fill="#f08010"/>
<rect x="359.14" y="146.10" width="3.77" height="66.20" fill="#8f9a9a"/>
<rect x="359.58" y="146.10" width="2.9" height="13.60" fill="#19e3e6"/>
<rect x="359.58" y="159.70" width="2.9" height="7.30" fill="#0a14f0"/>
<rect x="359.58" y="167.00" width="2.9" height="25.00" fill="#12c812"/>
<rect x="359.58" y="192.00" width="2.9" height="20.30" fill="#f20d0d"/>
<rect x="362.91" y="144.40" width="3.77" height="67.90" fill="#8f9a9a"/>
<rect x="363.35" y="144.40" width="2.9" height="13.00" fill="#19e3e6"/>
<rect x="363.35" y="157.40" width="2.9" height="27.90" fill="#12c812"/>
<rect x="363.35" y="185.30" width="2.9" height="27.00" fill="#f20d0d"/>
<rect x="366.69" y="146.50" width="3.77" height="65.80" fill="#8f9a9a"/>
<rect x="367.12" y="146.50" width="2.9" height="11.80" fill="#19e3e6"/>
<rect x="367.12" y="158.30" width="2.9" height="22.70" fill="#12c812"/>
<rect x="367.12" y="181.00" width="2.9" height="31.30" fill="#f20d0d"/>
<rect x="367.12" y="212.30" width="2.9" height="2.20" fill="#f08010"/>
<rect x="370.45" y="149.20" width="3.77" height="63.10" fill="#8f9a9a"/>
<rect x="370.89" y="149.20" width="2.9" height="10.50" fill="#19e3e6"/>
<rect x="370.89" y="159.70" width="2.9" height="23.70" fill="#12c812"/>
<rect x="370.89" y="183.40" width="2.9" height="28.90" fill="#f20d0d"/>
<rect x="374.22" y="153.20" width="3.77" height="59.10" fill="#8f9a9a"/>
<rect x="374.66" y="153.20" width="2.9" height="9.50" fill="#19e3e6"/>
<rect x="374.66" y="162.70" width="2.9" height="1.10" fill="#0a14f0"/>
<rect x="374.66" y="163.80" width="2.9" height="18.40" fill="#12c812"/>
<rect x="374.66" y="182.20" width="2.9" height="30.10" fill="#f20d0d"/>
<rect x="378.00" y="155.00" width="3.77" height="57.30" fill="#8f9a9a"/>
<rect x="378.43" y="155.00" width="2.9" height="8.50" fill="#19e3e6"/>
<rect x="378.43" y="163.50" width="2.9" height="21.80" fill="#12c812"/>
<rect x="378.43" y="185.30" width="2.9" height="27.00" fill="#f20d0d"/>
<rect x="378.43" y="212.30" width="2.9" height="3.40" fill="#f08010"/>
<polyline points="293.17,159.30 296.94,164.70 300.71,159.50 304.48,158.00 308.25,162.00 312.02,162.20 315.79,158.40 319.56,155.00 323.33,154.60 327.10,152.50 330.87,151.20 334.64,150.60 338.41,148.60 342.18,150.20 345.95,156.00 349.72,158.60 353.49,155.60 357.26,154.80 361.03,146.10 364.80,144.40 368.57,147.90 372.34,149.20 376.11,153.20 379.88,157.00" fill="none" stroke="#111" stroke-width="0.95" stroke-linejoin="round"/>
<circle cx="293.17" cy="159.30" r="1.5" fill="#000"/>
<circle cx="296.94" cy="164.70" r="1.5" fill="#000"/>
<circle cx="300.71" cy="159.50" r="1.5" fill="#000"/>
<circle cx="304.48" cy="158.00" r="1.5" fill="#000"/>
<circle cx="308.25" cy="162.00" r="1.5" fill="#000"/>
<circle cx="312.02" cy="162.20" r="1.5" fill="#000"/>
<circle cx="315.79" cy="158.40" r="1.5" fill="#000"/>
<circle cx="319.56" cy="155.00" r="1.5" fill="#000"/>
<circle cx="323.33" cy="154.60" r="1.5" fill="#000"/>
<circle cx="327.10" cy="152.50" r="1.5" fill="#000"/>
<circle cx="330.87" cy="151.20" r="1.5" fill="#000"/>
<circle cx="334.64" cy="150.60" r="1.5" fill="#000"/>
<circle cx="338.41" cy="148.60" r="1.5" fill="#000"/>
<circle cx="342.18" cy="150.20" r="1.5" fill="#000"/>
<circle cx="345.95" cy="156.00" r="1.5" fill="#000"/>
<circle cx="349.72" cy="158.60" r="1.5" fill="#000"/>
<circle cx="353.49" cy="155.60" r="1.5" fill="#000"/>
<circle cx="357.26" cy="154.80" r="1.5" fill="#000"/>
<circle cx="361.03" cy="146.10" r="1.5" fill="#000"/>
<circle cx="364.80" cy="144.40" r="1.5" fill="#000"/>
<circle cx="368.57" cy="147.90" r="1.5" fill="#000"/>
<circle cx="372.34" cy="149.20" r="1.5" fill="#000"/>
<circle cx="376.11" cy="153.20" r="1.5" fill="#000"/>
<circle cx="379.88" cy="157.00" r="1.5" fill="#000"/>
<text x="287.50" y="137.70" font-size="5.0" font-weight="bold" text-anchor="end" fill="#000" textLength="6.0" lengthAdjust="spacingAndGlyphs">120</text>
<text x="287.50" y="150.50" font-size="5.0" font-weight="bold" text-anchor="end" fill="#000" textLength="6.0" lengthAdjust="spacingAndGlyphs">100</text>
<text x="287.50" y="163.30" font-size="5.0" font-weight="bold" text-anchor="end" fill="#000" textLength="4.0" lengthAdjust="spacingAndGlyphs">80</text>
<text x="287.50" y="176.30" font-size="5.0" font-weight="bold" text-anchor="end" fill="#000" textLength="4.0" lengthAdjust="spacingAndGlyphs">60</text>
<text x="287.50" y="188.70" font-size="5.0" font-weight="bold" text-anchor="end" fill="#000" textLength="4.0" lengthAdjust="spacingAndGlyphs">40</text>
<text x="287.50" y="201.40" font-size="5.0" font-weight="bold" text-anchor="end" fill="#000" textLength="4.0" lengthAdjust="spacingAndGlyphs">20</text>
<text x="287.50" y="214.00" font-size="5.0" font-weight="bold" text-anchor="end" fill="#000" textLength="2.0" lengthAdjust="spacingAndGlyphs">0</text>
<text transform="translate(293.67 223.2) rotate(-36) scale(0.66 1.45)" font-size="4.1" letter-spacing="0.9" font-weight="bold" text-anchor="middle" dominant-baseline="central" fill="#000">1</text>
<text transform="translate(297.44 223.2) rotate(-36) scale(0.66 1.45)" font-size="4.1" letter-spacing="0.9" font-weight="bold" text-anchor="middle" dominant-baseline="central" fill="#000">2</text>
<text transform="translate(301.21 223.2) rotate(-36) scale(0.66 1.45)" font-size="4.1" letter-spacing="0.9" font-weight="bold" text-anchor="middle" dominant-baseline="central" fill="#000">3</text>
<text transform="translate(304.98 223.2) rotate(-36) scale(0.66 1.45)" font-size="4.1" letter-spacing="0.9" font-weight="bold" text-anchor="middle" dominant-baseline="central" fill="#000">4</text>
<text transform="translate(308.75 223.2) rotate(-36) scale(0.66 1.45)" font-size="4.1" letter-spacing="0.9" font-weight="bold" text-anchor="middle" dominant-baseline="central" fill="#000">5</text>
<text transform="translate(312.52 223.2) rotate(-36) scale(0.66 1.45)" font-size="4.1" letter-spacing="0.9" font-weight="bold" text-anchor="middle" dominant-baseline="central" fill="#000">6</text>
<text transform="translate(316.29 223.2) rotate(-36) scale(0.66 1.45)" font-size="4.1" letter-spacing="0.9" font-weight="bold" text-anchor="middle" dominant-baseline="central" fill="#000">7</text>
<text transform="translate(320.06 223.2) rotate(-36) scale(0.66 1.45)" font-size="4.1" letter-spacing="0.9" font-weight="bold" text-anchor="middle" dominant-baseline="central" fill="#000">8</text>
<text transform="translate(323.83 223.2) rotate(-36) scale(0.66 1.45)" font-size="4.1" letter-spacing="0.9" font-weight="bold" text-anchor="middle" dominant-baseline="central" fill="#000">9</text>
<text transform="translate(327.60 223.2) rotate(-36) scale(0.66 1.45)" font-size="4.1" letter-spacing="0.9" font-weight="bold" text-anchor="middle" dominant-baseline="central" fill="#000">10</text>
<text transform="translate(331.37 223.2) rotate(-36) scale(0.66 1.45)" font-size="4.1" letter-spacing="0.9" font-weight="bold" text-anchor="middle" dominant-baseline="central" fill="#000">11</text>
<text transform="translate(335.14 223.2) rotate(-36) scale(0.66 1.45)" font-size="4.1" letter-spacing="0.9" font-weight="bold" text-anchor="middle" dominant-baseline="central" fill="#000">12</text>
<text transform="translate(338.91 223.2) rotate(-36) scale(0.66 1.45)" font-size="4.1" letter-spacing="0.9" font-weight="bold" text-anchor="middle" dominant-baseline="central" fill="#000">13</text>
<text transform="translate(342.68 223.2) rotate(-36) scale(0.66 1.45)" font-size="4.1" letter-spacing="0.9" font-weight="bold" text-anchor="middle" dominant-baseline="central" fill="#000">14</text>
<text transform="translate(346.45 223.2) rotate(-36) scale(0.66 1.45)" font-size="4.1" letter-spacing="0.9" font-weight="bold" text-anchor="middle" dominant-baseline="central" fill="#000">15</text>
<text transform="translate(350.22 223.2) rotate(-36) scale(0.66 1.45)" font-size="4.1" letter-spacing="0.9" font-weight="bold" text-anchor="middle" dominant-baseline="central" fill="#000">16</text>
<text transform="translate(353.99 223.2) rotate(-36) scale(0.66 1.45)" font-size="4.1" letter-spacing="0.9" font-weight="bold" text-anchor="middle" dominant-baseline="central" fill="#000">17</text>
<text transform="translate(357.76 223.2) rotate(-36) scale(0.66 1.45)" font-size="4.1" letter-spacing="0.9" font-weight="bold" text-anchor="middle" dominant-baseline="central" fill="#000">18</text>
<text transform="translate(361.53 223.2) rotate(-36) scale(0.66 1.45)" font-size="4.1" letter-spacing="0.9" font-weight="bold" text-anchor="middle" dominant-baseline="central" fill="#000">19</text>
<text transform="translate(365.30 223.2) rotate(-36) scale(0.66 1.45)" font-size="4.1" letter-spacing="0.9" font-weight="bold" text-anchor="middle" dominant-baseline="central" fill="#000">20</text>
<text transform="translate(369.07 223.2) rotate(-36) scale(0.66 1.45)" font-size="4.1" letter-spacing="0.9" font-weight="bold" text-anchor="middle" dominant-baseline="central" fill="#000">21</text>
<text transform="translate(372.84 223.2) rotate(-36) scale(0.66 1.45)" font-size="4.1" letter-spacing="0.9" font-weight="bold" text-anchor="middle" dominant-baseline="central" fill="#000">22</text>
<text transform="translate(376.61 223.2) rotate(-36) scale(0.66 1.45)" font-size="4.1" letter-spacing="0.9" font-weight="bold" text-anchor="middle" dominant-baseline="central" fill="#000">23</text>
<text transform="translate(380.38 223.2) rotate(-36) scale(0.66 1.45)" font-size="4.1" letter-spacing="0.9" font-weight="bold" text-anchor="middle" dominant-baseline="central" fill="#000">24</text>
<text x="336.3" y="130.6" font-size="5.4" text-anchor="middle" textLength="71.5" lengthAdjust="spacingAndGlyphs" fill="#000">Electric Power Balance(spring/autumn)</text>
<text x="336.50" y="234.5" font-size="5.2" text-anchor="middle" textLength="21.3" lengthAdjust="spacingAndGlyphs" fill="#111">Time (hour)</text>
<text transform="translate(279.80 174.2) rotate(-90)" font-size="3.9" font-weight="bold" text-anchor="middle" textLength="34" lengthAdjust="spacingAndGlyphs" fill="#111" class="yb">Power (kW)</text>
<rect x="304.10" y="239.9" width="65" height="11.2" fill="#fff" stroke="#b5b5b5" stroke-width="0.5"/>
<rect x="305.50" y="241.15" width="8.6" height="3.2" fill="#f20d0d" stroke="#777" stroke-width="0.25"/>
<text x="314.70" y="243.80" font-size="2.6" font-weight="bold" fill="#222" class="lg">Pfc</text>
<rect x="321.60" y="241.15" width="8.6" height="3.2" fill="#12c812" stroke="#777" stroke-width="0.25"/>
<text x="330.80" y="243.80" font-size="2.6" font-weight="bold" fill="#222" class="lg">Pb</text>
<rect x="336.90" y="241.15" width="8.6" height="3.2" fill="#0a14f0" stroke="#777" stroke-width="0.25"/>
<text x="346.10" y="243.80" font-size="2.6" font-weight="bold" fill="#222" class="lg">Pdis</text>
<rect x="354.70" y="241.15" width="8.6" height="3.2" fill="#ffe81a" stroke="#777" stroke-width="0.25"/>
<text x="363.90" y="243.80" font-size="2.6" font-weight="bold" fill="#222" class="lg">Ppv</text>
<rect x="305.50" y="246.20" width="8.6" height="3.2" fill="#19e3e6" stroke="#777" stroke-width="0.25"/>
<text x="314.70" y="248.90" font-size="2.6" font-weight="bold" fill="#222" class="lg">Pwt</text>
<rect x="321.60" y="246.20" width="8.6" height="3.2" fill="#f08010" stroke="#777" stroke-width="0.25"/>
<text x="330.80" y="248.90" font-size="2.6" font-weight="bold" fill="#222" class="lg">Pch</text>
<path d="M336.90 247.80h8.6" stroke="#111" stroke-width="0.95"/>
<circle cx="341.20" cy="247.80" r="1.35" fill="#000"/>
<text x="346.10" y="248.90" font-size="2.6" font-weight="bold" fill="#222" class="lg">Pload</text>
</svg>
</body></html>
